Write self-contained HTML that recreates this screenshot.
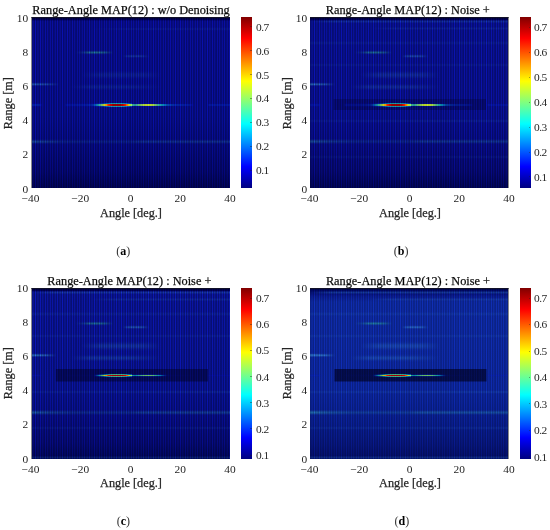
<!DOCTYPE html><html><head><meta charset="utf-8"><style>
*{margin:0;padding:0;box-sizing:border-box}
html,body{width:550px;height:530px;background:#fff;overflow:hidden}
body{position:relative;font-family:"Liberation Serif","Times New Roman",serif;color:#262626}
.t{position:absolute;white-space:nowrap;line-height:1;-webkit-text-stroke:0.25px #262626}
.title{font-size:12.3px;color:#000}
.tk{font-size:11.4px;-webkit-text-stroke:0}
.lab{font-size:12.25px}
.plot{position:absolute;overflow:hidden;background:#0000a0}
.ax{position:absolute;left:0;top:0;right:0;bottom:0;border-top:1px solid rgba(20,20,40,.85)}
.axl{border-left:1px solid #8c8c8c}
.axr{border-right:1px solid #8c8c8c}
.cb{position:absolute;background:linear-gradient(to top, #000080 0%, #0000ff 12.5%, #00ffff 37.5%, #ffff00 62.5%, #ff0000 87.5%, #800000 100%)}
.cap{position:absolute;font-family:"Liberation Serif","Times New Roman",serif;font-size:12px;color:#000;white-space:nowrap;line-height:1}
.cap b{font-weight:bold}
.cap i{font-style:normal;color:#333}
</style></head><body>
<div class="plot" style="left:31px;top:17px;width:199px;height:171px"><svg width="199" height="171" viewBox="0 0 199 171" style="position:absolute;left:0;top:0;display:block;filter:blur(0.7px)" shape-rendering="crispEdges"><defs><linearGradient id="bga" x1="0" y1="0" x2="0" y2="1"><stop offset="0.0000" stop-color="#000030"/><stop offset="0.0146" stop-color="#000070"/><stop offset="0.0234" stop-color="#0a10b2"/><stop offset="0.5848" stop-color="#0810ac"/><stop offset="0.7602" stop-color="#060c9c"/><stop offset="0.9064" stop-color="#040888"/><stop offset="1.0000" stop-color="#00046a"/></linearGradient><linearGradient id="fa0"><stop offset="0.031" stop-color="#30c0b0" stop-opacity="0.00"/><stop offset="0.719" stop-color="#30c0b0" stop-opacity="0.03"/><stop offset="0.969" stop-color="#30c0b0" stop-opacity="0.00"/></linearGradient><linearGradient id="fa1"><stop offset="0.031" stop-color="#30c0b0" stop-opacity="0.01"/><stop offset="0.219" stop-color="#30c0b0" stop-opacity="0.11"/><stop offset="0.344" stop-color="#30c0b0" stop-opacity="0.26"/><stop offset="0.531" stop-color="#30c0b0" stop-opacity="0.31"/><stop offset="0.719" stop-color="#30c0b0" stop-opacity="0.25"/><stop offset="0.969" stop-color="#30c0b0" stop-opacity="0.00"/></linearGradient><linearGradient id="fa2"><stop offset="0.031" stop-color="#30c0b0" stop-opacity="0.01"/><stop offset="0.219" stop-color="#30c0b0" stop-opacity="0.22"/><stop offset="0.344" stop-color="#30c0b0" stop-opacity="0.51"/><stop offset="0.469" stop-color="#30c0b0" stop-opacity="0.61"/><stop offset="0.531" stop-color="#30c0b0" stop-opacity="0.62"/><stop offset="0.719" stop-color="#30c0b0" stop-opacity="0.50"/><stop offset="0.969" stop-color="#30c0b0" stop-opacity="0.00"/></linearGradient><linearGradient id="fa3"><stop offset="0.031" stop-color="#30c0b0" stop-opacity="0.01"/><stop offset="0.219" stop-color="#30c0b0" stop-opacity="0.11"/><stop offset="0.344" stop-color="#30c0b0" stop-opacity="0.26"/><stop offset="0.531" stop-color="#30c0b0" stop-opacity="0.31"/><stop offset="0.719" stop-color="#30c0b0" stop-opacity="0.25"/><stop offset="0.969" stop-color="#30c0b0" stop-opacity="0.00"/></linearGradient><linearGradient id="fa4"><stop offset="0.031" stop-color="#30c0b0" stop-opacity="0.00"/><stop offset="0.719" stop-color="#30c0b0" stop-opacity="0.03"/><stop offset="0.969" stop-color="#30c0b0" stop-opacity="0.00"/></linearGradient><linearGradient id="fa5"><stop offset="0.006" stop-color="#2a80c8" stop-opacity="0.05"/><stop offset="0.340" stop-color="#2a80c8" stop-opacity="0.02"/><stop offset="0.994" stop-color="#2a80c8" stop-opacity="0.03"/></linearGradient><linearGradient id="fa6"><stop offset="0.006" stop-color="#2a80c8" stop-opacity="0.29"/><stop offset="0.130" stop-color="#2a80c8" stop-opacity="0.13"/><stop offset="0.179" stop-color="#2a80c8" stop-opacity="0.10"/><stop offset="0.512" stop-color="#2a80c8" stop-opacity="0.11"/><stop offset="0.574" stop-color="#2a80c8" stop-opacity="0.17"/><stop offset="0.994" stop-color="#2a80c8" stop-opacity="0.17"/></linearGradient><linearGradient id="fa7"><stop offset="0.006" stop-color="#2a80c8" stop-opacity="0.58"/><stop offset="0.093" stop-color="#2a80c8" stop-opacity="0.39"/><stop offset="0.154" stop-color="#2a80c8" stop-opacity="0.20"/><stop offset="0.500" stop-color="#2a80c8" stop-opacity="0.20"/><stop offset="0.562" stop-color="#2a80c8" stop-opacity="0.34"/><stop offset="0.994" stop-color="#2a80c8" stop-opacity="0.34"/></linearGradient><linearGradient id="fa8"><stop offset="0.006" stop-color="#2a80c8" stop-opacity="0.43"/><stop offset="0.105" stop-color="#2a80c8" stop-opacity="0.26"/><stop offset="0.154" stop-color="#2a80c8" stop-opacity="0.15"/><stop offset="0.500" stop-color="#2a80c8" stop-opacity="0.15"/><stop offset="0.562" stop-color="#2a80c8" stop-opacity="0.25"/><stop offset="0.994" stop-color="#2a80c8" stop-opacity="0.25"/></linearGradient><linearGradient id="fa9"><stop offset="0.006" stop-color="#2a80c8" stop-opacity="0.12"/><stop offset="0.204" stop-color="#2a80c8" stop-opacity="0.04"/><stop offset="0.537" stop-color="#2a80c8" stop-opacity="0.06"/><stop offset="0.994" stop-color="#2a80c8" stop-opacity="0.07"/></linearGradient><linearGradient id="fa10"><stop offset="0.042" stop-color="#2f78e0" stop-opacity="0.06"/><stop offset="0.958" stop-color="#2f78e0" stop-opacity="0.00"/></linearGradient><linearGradient id="fa11"><stop offset="0.042" stop-color="#2f78e0" stop-opacity="0.48"/><stop offset="0.542" stop-color="#2f78e0" stop-opacity="0.34"/><stop offset="0.958" stop-color="#2f78e0" stop-opacity="0.00"/></linearGradient><linearGradient id="fa12"><stop offset="0.042" stop-color="#2f78e0" stop-opacity="0.76"/><stop offset="0.458" stop-color="#2f78e0" stop-opacity="0.60"/><stop offset="0.542" stop-color="#2f78e0" stop-opacity="0.54"/><stop offset="0.958" stop-color="#2f78e0" stop-opacity="0.00"/></linearGradient><linearGradient id="fa13"><stop offset="0.042" stop-color="#2f78e0" stop-opacity="0.25"/><stop offset="0.542" stop-color="#2f78e0" stop-opacity="0.18"/><stop offset="0.958" stop-color="#2f78e0" stop-opacity="0.00"/></linearGradient><linearGradient id="fa14"><stop offset="0.009" stop-color="#2f78e0" stop-opacity="0.00"/><stop offset="0.991" stop-color="#2f78e0" stop-opacity="0.02"/></linearGradient><linearGradient id="fa15"><stop offset="0.009" stop-color="#2f78e0" stop-opacity="0.00"/><stop offset="0.272" stop-color="#2f78e0" stop-opacity="0.10"/><stop offset="0.991" stop-color="#2f78e0" stop-opacity="0.10"/></linearGradient><linearGradient id="fa16"><stop offset="0.009" stop-color="#2f78e0" stop-opacity="0.00"/><stop offset="0.272" stop-color="#2f78e0" stop-opacity="0.10"/><stop offset="0.991" stop-color="#2f78e0" stop-opacity="0.10"/></linearGradient><linearGradient id="fa17"><stop offset="0.009" stop-color="#2f78e0" stop-opacity="0.00"/><stop offset="0.991" stop-color="#2f78e0" stop-opacity="0.02"/></linearGradient><linearGradient id="fa18"><stop offset="0.042" stop-color="#2f78e0" stop-opacity="0.00"/><stop offset="0.458" stop-color="#2f78e0" stop-opacity="0.04"/><stop offset="0.958" stop-color="#2f78e0" stop-opacity="0.00"/></linearGradient><linearGradient id="fa19"><stop offset="0.042" stop-color="#2f78e0" stop-opacity="0.01"/><stop offset="0.208" stop-color="#2f78e0" stop-opacity="0.23"/><stop offset="0.292" stop-color="#2f78e0" stop-opacity="0.27"/><stop offset="0.625" stop-color="#2f78e0" stop-opacity="0.27"/><stop offset="0.875" stop-color="#2f78e0" stop-opacity="0.04"/><stop offset="0.958" stop-color="#2f78e0" stop-opacity="0.00"/></linearGradient><linearGradient id="fa20"><stop offset="0.042" stop-color="#2f78e0" stop-opacity="0.01"/><stop offset="0.208" stop-color="#2f78e0" stop-opacity="0.31"/><stop offset="0.292" stop-color="#2f78e0" stop-opacity="0.37"/><stop offset="0.625" stop-color="#2f78e0" stop-opacity="0.37"/><stop offset="0.792" stop-color="#2f78e0" stop-opacity="0.18"/><stop offset="0.875" stop-color="#2f78e0" stop-opacity="0.06"/><stop offset="0.958" stop-color="#2f78e0" stop-opacity="0.00"/></linearGradient><linearGradient id="fa21"><stop offset="0.042" stop-color="#2f78e0" stop-opacity="0.00"/><stop offset="0.292" stop-color="#2f78e0" stop-opacity="0.11"/><stop offset="0.708" stop-color="#2f78e0" stop-opacity="0.08"/><stop offset="0.958" stop-color="#2f78e0" stop-opacity="0.00"/></linearGradient><linearGradient id="fa22"><stop offset="0.015" stop-color="#2f78e0" stop-opacity="0.00"/><stop offset="0.985" stop-color="#2f78e0" stop-opacity="0.00"/></linearGradient><linearGradient id="fa23"><stop offset="0.015" stop-color="#2f78e0" stop-opacity="0.00"/><stop offset="0.439" stop-color="#2f78e0" stop-opacity="0.04"/><stop offset="0.924" stop-color="#2f78e0" stop-opacity="0.01"/><stop offset="0.985" stop-color="#2f78e0" stop-opacity="0.00"/></linearGradient><linearGradient id="fa24"><stop offset="0.015" stop-color="#2f78e0" stop-opacity="0.00"/><stop offset="0.318" stop-color="#2f78e0" stop-opacity="0.09"/><stop offset="0.803" stop-color="#2f78e0" stop-opacity="0.07"/><stop offset="0.985" stop-color="#2f78e0" stop-opacity="0.00"/></linearGradient><linearGradient id="fa25"><stop offset="0.015" stop-color="#2f78e0" stop-opacity="0.00"/><stop offset="0.288" stop-color="#2f78e0" stop-opacity="0.15"/><stop offset="0.773" stop-color="#2f78e0" stop-opacity="0.14"/><stop offset="0.985" stop-color="#2f78e0" stop-opacity="0.01"/></linearGradient><linearGradient id="fa26"><stop offset="0.015" stop-color="#2f78e0" stop-opacity="0.00"/><stop offset="0.258" stop-color="#2f78e0" stop-opacity="0.19"/><stop offset="0.773" stop-color="#2f78e0" stop-opacity="0.18"/><stop offset="0.985" stop-color="#2f78e0" stop-opacity="0.01"/></linearGradient><linearGradient id="fa27"><stop offset="0.015" stop-color="#2f78e0" stop-opacity="0.00"/><stop offset="0.258" stop-color="#2f78e0" stop-opacity="0.19"/><stop offset="0.773" stop-color="#2f78e0" stop-opacity="0.18"/><stop offset="0.985" stop-color="#2f78e0" stop-opacity="0.01"/></linearGradient><linearGradient id="fa28"><stop offset="0.015" stop-color="#2f78e0" stop-opacity="0.00"/><stop offset="0.288" stop-color="#2f78e0" stop-opacity="0.15"/><stop offset="0.773" stop-color="#2f78e0" stop-opacity="0.14"/><stop offset="0.985" stop-color="#2f78e0" stop-opacity="0.01"/></linearGradient><linearGradient id="fa29"><stop offset="0.015" stop-color="#2f78e0" stop-opacity="0.00"/><stop offset="0.318" stop-color="#2f78e0" stop-opacity="0.09"/><stop offset="0.803" stop-color="#2f78e0" stop-opacity="0.07"/><stop offset="0.985" stop-color="#2f78e0" stop-opacity="0.00"/></linearGradient><linearGradient id="fa30"><stop offset="0.015" stop-color="#2f78e0" stop-opacity="0.00"/><stop offset="0.439" stop-color="#2f78e0" stop-opacity="0.04"/><stop offset="0.924" stop-color="#2f78e0" stop-opacity="0.01"/><stop offset="0.985" stop-color="#2f78e0" stop-opacity="0.00"/></linearGradient><linearGradient id="fa31"><stop offset="0.015" stop-color="#2f78e0" stop-opacity="0.00"/><stop offset="0.985" stop-color="#2f78e0" stop-opacity="0.00"/></linearGradient><linearGradient id="fa32"><stop offset="0.014" stop-color="#2f78e0" stop-opacity="0.00"/><stop offset="0.986" stop-color="#2f78e0" stop-opacity="0.00"/></linearGradient><linearGradient id="fa33"><stop offset="0.014" stop-color="#2f78e0" stop-opacity="0.00"/><stop offset="0.365" stop-color="#2f78e0" stop-opacity="0.05"/><stop offset="0.878" stop-color="#2f78e0" stop-opacity="0.02"/><stop offset="0.986" stop-color="#2f78e0" stop-opacity="0.00"/></linearGradient><linearGradient id="fa34"><stop offset="0.014" stop-color="#2f78e0" stop-opacity="0.00"/><stop offset="0.257" stop-color="#2f78e0" stop-opacity="0.12"/><stop offset="0.716" stop-color="#2f78e0" stop-opacity="0.10"/><stop offset="0.986" stop-color="#2f78e0" stop-opacity="0.00"/></linearGradient><linearGradient id="fa35"><stop offset="0.014" stop-color="#2f78e0" stop-opacity="0.01"/><stop offset="0.230" stop-color="#2f78e0" stop-opacity="0.19"/><stop offset="0.689" stop-color="#2f78e0" stop-opacity="0.18"/><stop offset="0.986" stop-color="#2f78e0" stop-opacity="0.01"/></linearGradient><linearGradient id="fa36"><stop offset="0.014" stop-color="#2f78e0" stop-opacity="0.01"/><stop offset="0.230" stop-color="#2f78e0" stop-opacity="0.19"/><stop offset="0.689" stop-color="#2f78e0" stop-opacity="0.18"/><stop offset="0.986" stop-color="#2f78e0" stop-opacity="0.01"/></linearGradient><linearGradient id="fa37"><stop offset="0.014" stop-color="#2f78e0" stop-opacity="0.00"/><stop offset="0.257" stop-color="#2f78e0" stop-opacity="0.12"/><stop offset="0.716" stop-color="#2f78e0" stop-opacity="0.10"/><stop offset="0.986" stop-color="#2f78e0" stop-opacity="0.00"/></linearGradient><linearGradient id="fa38"><stop offset="0.014" stop-color="#2f78e0" stop-opacity="0.00"/><stop offset="0.365" stop-color="#2f78e0" stop-opacity="0.05"/><stop offset="0.878" stop-color="#2f78e0" stop-opacity="0.02"/><stop offset="0.986" stop-color="#2f78e0" stop-opacity="0.00"/></linearGradient><linearGradient id="fa39"><stop offset="0.014" stop-color="#2f78e0" stop-opacity="0.00"/><stop offset="0.986" stop-color="#2f78e0" stop-opacity="0.00"/></linearGradient><linearGradient id="fa40"><stop offset="0.012" stop-color="#0000fa" stop-opacity="0.10"/><stop offset="0.085" stop-color="#0000fa" stop-opacity="0.10"/><stop offset="0.110" stop-color="#0000d0" stop-opacity="0.03"/><stop offset="0.134" stop-color="#0000bd" stop-opacity="0.00"/><stop offset="0.329" stop-color="#0000c1" stop-opacity="0.01"/><stop offset="0.354" stop-color="#0000eb" stop-opacity="0.08"/><stop offset="0.573" stop-color="#0000f7" stop-opacity="0.09"/><stop offset="0.598" stop-color="#0000fc" stop-opacity="0.10"/><stop offset="0.622" stop-color="#0010ff" stop-opacity="0.13"/><stop offset="0.720" stop-color="#008dff" stop-opacity="0.34"/><stop offset="0.768" stop-color="#00f2ff" stop-opacity="0.50"/><stop offset="0.793" stop-color="#13ffec" stop-opacity="0.56"/><stop offset="0.817" stop-color="#28ffd7" stop-opacity="0.59"/><stop offset="0.890" stop-color="#28ffd7" stop-opacity="0.59"/><stop offset="0.915" stop-color="#13ffec" stop-opacity="0.56"/><stop offset="0.939" stop-color="#00f3ff" stop-opacity="0.51"/><stop offset="0.963" stop-color="#00b9ff" stop-opacity="0.41"/><stop offset="0.988" stop-color="#0095ff" stop-opacity="0.35"/></linearGradient><linearGradient id="fa41"><stop offset="0.012" stop-color="#005bff" stop-opacity="0.26"/><stop offset="0.085" stop-color="#005bff" stop-opacity="0.26"/><stop offset="0.110" stop-color="#0000ee" stop-opacity="0.08"/><stop offset="0.134" stop-color="#0000bd" stop-opacity="0.00"/><stop offset="0.305" stop-color="#0000bd" stop-opacity="0.00"/><stop offset="0.329" stop-color="#0000c7" stop-opacity="0.02"/><stop offset="0.354" stop-color="#0034ff" stop-opacity="0.19"/><stop offset="0.549" stop-color="#0049ff" stop-opacity="0.23"/><stop offset="0.598" stop-color="#005fff" stop-opacity="0.26"/><stop offset="0.622" stop-color="#008fff" stop-opacity="0.34"/><stop offset="0.646" stop-color="#00ddff" stop-opacity="0.47"/><stop offset="0.671" stop-color="#30ffcf" stop-opacity="0.60"/><stop offset="0.720" stop-color="#d1ff2e" stop-opacity="0.87"/><stop offset="0.744" stop-color="#ffb400"/><stop offset="0.768" stop-color="#ff2900"/><stop offset="0.793" stop-color="#d70000"/><stop offset="0.817" stop-color="#a20000"/><stop offset="0.890" stop-color="#a20000"/><stop offset="0.915" stop-color="#d60000"/><stop offset="0.939" stop-color="#ff2800"/><stop offset="0.963" stop-color="#ffbb00"/><stop offset="0.988" stop-color="#e6ff19" stop-opacity="0.90"/></linearGradient><linearGradient id="fa42"><stop offset="0.012" stop-color="#005bff" stop-opacity="0.26"/><stop offset="0.085" stop-color="#005bff" stop-opacity="0.26"/><stop offset="0.110" stop-color="#0000ee" stop-opacity="0.08"/><stop offset="0.134" stop-color="#0000bd" stop-opacity="0.00"/><stop offset="0.305" stop-color="#0000bd" stop-opacity="0.00"/><stop offset="0.329" stop-color="#0000c7" stop-opacity="0.02"/><stop offset="0.354" stop-color="#0034ff" stop-opacity="0.19"/><stop offset="0.549" stop-color="#0049ff" stop-opacity="0.23"/><stop offset="0.598" stop-color="#005fff" stop-opacity="0.26"/><stop offset="0.622" stop-color="#008fff" stop-opacity="0.34"/><stop offset="0.646" stop-color="#00ddff" stop-opacity="0.47"/><stop offset="0.671" stop-color="#30ffcf" stop-opacity="0.60"/><stop offset="0.720" stop-color="#d1ff2e" stop-opacity="0.87"/><stop offset="0.744" stop-color="#ffb400"/><stop offset="0.768" stop-color="#ff2900"/><stop offset="0.793" stop-color="#d70000"/><stop offset="0.817" stop-color="#a20000"/><stop offset="0.890" stop-color="#a20000"/><stop offset="0.915" stop-color="#d60000"/><stop offset="0.939" stop-color="#ff2800"/><stop offset="0.963" stop-color="#ffbb00"/><stop offset="0.988" stop-color="#e6ff19" stop-opacity="0.90"/></linearGradient><linearGradient id="fa43"><stop offset="0.012" stop-color="#0000fa" stop-opacity="0.10"/><stop offset="0.085" stop-color="#0000fa" stop-opacity="0.10"/><stop offset="0.110" stop-color="#0000d0" stop-opacity="0.03"/><stop offset="0.134" stop-color="#0000bd" stop-opacity="0.00"/><stop offset="0.329" stop-color="#0000c1" stop-opacity="0.01"/><stop offset="0.354" stop-color="#0000eb" stop-opacity="0.08"/><stop offset="0.573" stop-color="#0000f7" stop-opacity="0.09"/><stop offset="0.598" stop-color="#0000fc" stop-opacity="0.10"/><stop offset="0.622" stop-color="#0010ff" stop-opacity="0.13"/><stop offset="0.720" stop-color="#008dff" stop-opacity="0.34"/><stop offset="0.768" stop-color="#00f2ff" stop-opacity="0.50"/><stop offset="0.793" stop-color="#13ffec" stop-opacity="0.56"/><stop offset="0.817" stop-color="#28ffd7" stop-opacity="0.59"/><stop offset="0.890" stop-color="#28ffd7" stop-opacity="0.59"/><stop offset="0.915" stop-color="#13ffec" stop-opacity="0.56"/><stop offset="0.939" stop-color="#00f3ff" stop-opacity="0.51"/><stop offset="0.963" stop-color="#00b9ff" stop-opacity="0.41"/><stop offset="0.988" stop-color="#0095ff" stop-opacity="0.35"/></linearGradient><linearGradient id="fa44"><stop offset="0.012" stop-color="#000bff" stop-opacity="0.13"/><stop offset="0.037" stop-color="#0000fd" stop-opacity="0.10"/><stop offset="0.183" stop-color="#0014ff" stop-opacity="0.14"/><stop offset="0.256" stop-color="#000aff" stop-opacity="0.12"/><stop offset="0.329" stop-color="#0000f2" stop-opacity="0.09"/><stop offset="0.451" stop-color="#0000d8" stop-opacity="0.05"/><stop offset="0.622" stop-color="#0000cd" stop-opacity="0.03"/><stop offset="0.671" stop-color="#0000bd" stop-opacity="0.00"/><stop offset="0.768" stop-color="#0000bd" stop-opacity="0.00"/><stop offset="0.793" stop-color="#0000d2" stop-opacity="0.03"/><stop offset="0.988" stop-color="#0000d2" stop-opacity="0.03"/></linearGradient><linearGradient id="fa45"><stop offset="0.012" stop-color="#a5ff5a" stop-opacity="0.80"/><stop offset="0.037" stop-color="#52ffad" stop-opacity="0.66"/><stop offset="0.061" stop-color="#3bffc4" stop-opacity="0.62"/><stop offset="0.085" stop-color="#76ff89" stop-opacity="0.72"/><stop offset="0.110" stop-color="#a1ff5e" stop-opacity="0.79"/><stop offset="0.159" stop-color="#dcff23" stop-opacity="0.89"/><stop offset="0.207" stop-color="#dcff23" stop-opacity="0.89"/><stop offset="0.232" stop-color="#cfff30" stop-opacity="0.86"/><stop offset="0.329" stop-color="#0dfff2" stop-opacity="0.55"/><stop offset="0.354" stop-color="#00ddff" stop-opacity="0.47"/><stop offset="0.378" stop-color="#00aeff" stop-opacity="0.39"/><stop offset="0.451" stop-color="#006bff" stop-opacity="0.28"/><stop offset="0.598" stop-color="#0046ff" stop-opacity="0.22"/><stop offset="0.622" stop-color="#0024ff" stop-opacity="0.17"/><stop offset="0.646" stop-color="#0000d1" stop-opacity="0.03"/><stop offset="0.671" stop-color="#0000bd" stop-opacity="0.00"/><stop offset="0.768" stop-color="#0000bd" stop-opacity="0.00"/><stop offset="0.793" stop-color="#0043ff" stop-opacity="0.22"/><stop offset="0.988" stop-color="#0043ff" stop-opacity="0.22"/></linearGradient><linearGradient id="fa46"><stop offset="0.012" stop-color="#a5ff5a" stop-opacity="0.80"/><stop offset="0.037" stop-color="#52ffad" stop-opacity="0.66"/><stop offset="0.061" stop-color="#3bffc4" stop-opacity="0.62"/><stop offset="0.085" stop-color="#76ff89" stop-opacity="0.72"/><stop offset="0.110" stop-color="#a1ff5e" stop-opacity="0.79"/><stop offset="0.159" stop-color="#dcff23" stop-opacity="0.89"/><stop offset="0.207" stop-color="#dcff23" stop-opacity="0.89"/><stop offset="0.232" stop-color="#cfff30" stop-opacity="0.86"/><stop offset="0.329" stop-color="#0dfff2" stop-opacity="0.55"/><stop offset="0.354" stop-color="#00ddff" stop-opacity="0.47"/><stop offset="0.378" stop-color="#00aeff" stop-opacity="0.39"/><stop offset="0.451" stop-color="#006bff" stop-opacity="0.28"/><stop offset="0.598" stop-color="#0046ff" stop-opacity="0.22"/><stop offset="0.622" stop-color="#0024ff" stop-opacity="0.17"/><stop offset="0.646" stop-color="#0000d1" stop-opacity="0.03"/><stop offset="0.671" stop-color="#0000bd" stop-opacity="0.00"/><stop offset="0.768" stop-color="#0000bd" stop-opacity="0.00"/><stop offset="0.793" stop-color="#0043ff" stop-opacity="0.22"/><stop offset="0.988" stop-color="#0043ff" stop-opacity="0.22"/></linearGradient><linearGradient id="fa47"><stop offset="0.012" stop-color="#000bff" stop-opacity="0.13"/><stop offset="0.037" stop-color="#0000fd" stop-opacity="0.10"/><stop offset="0.183" stop-color="#0014ff" stop-opacity="0.14"/><stop offset="0.256" stop-color="#000aff" stop-opacity="0.12"/><stop offset="0.329" stop-color="#0000f2" stop-opacity="0.09"/><stop offset="0.451" stop-color="#0000d8" stop-opacity="0.05"/><stop offset="0.622" stop-color="#0000cd" stop-opacity="0.03"/><stop offset="0.671" stop-color="#0000bd" stop-opacity="0.00"/><stop offset="0.768" stop-color="#0000bd" stop-opacity="0.00"/><stop offset="0.793" stop-color="#0000d2" stop-opacity="0.03"/><stop offset="0.988" stop-color="#0000d2" stop-opacity="0.03"/></linearGradient><pattern id="sta" x="0" y="0" width="2.4568" height="171" patternUnits="userSpaceOnUse"><rect x="0" y="0" width="1.351" height="171" fill="#000" opacity="0.3"/></pattern></defs><rect x="0" y="0" width="199" height="171" fill="url(#bga)"/><rect x="44.22" y="33" width="39.31" height="1" fill="url(#fa0)"/><rect x="44.22" y="34" width="39.31" height="1" fill="url(#fa1)"/><rect x="44.22" y="35" width="39.31" height="1" fill="url(#fa2)"/><rect x="44.22" y="36" width="39.31" height="1" fill="url(#fa3)"/><rect x="44.22" y="37" width="39.31" height="1" fill="url(#fa4)"/><rect x="0.00" y="122" width="199.00" height="1" fill="url(#fa5)"/><rect x="0.00" y="123" width="199.00" height="1" fill="url(#fa6)"/><rect x="0.00" y="124" width="199.00" height="1" fill="url(#fa7)"/><rect x="0.00" y="125" width="199.00" height="1" fill="url(#fa8)"/><rect x="0.00" y="126" width="199.00" height="1" fill="url(#fa9)"/><rect x="0.00" y="65" width="29.48" height="1" fill="url(#fa10)"/><rect x="0.00" y="66" width="29.48" height="1" fill="url(#fa11)"/><rect x="0.00" y="67" width="29.48" height="1" fill="url(#fa12)"/><rect x="0.00" y="68" width="29.48" height="1" fill="url(#fa13)"/><rect x="58.96" y="10" width="140.04" height="1" fill="url(#fa14)"/><rect x="58.96" y="11" width="140.04" height="1" fill="url(#fa15)"/><rect x="58.96" y="12" width="140.04" height="1" fill="url(#fa16)"/><rect x="58.96" y="13" width="140.04" height="1" fill="url(#fa17)"/><rect x="90.90" y="37" width="29.48" height="1" fill="url(#fa18)"/><rect x="90.90" y="38" width="29.48" height="1" fill="url(#fa19)"/><rect x="90.90" y="39" width="29.48" height="1" fill="url(#fa20)"/><rect x="90.90" y="40" width="29.48" height="1" fill="url(#fa21)"/><rect x="49.14" y="53" width="81.07" height="1" fill="url(#fa22)"/><rect x="49.14" y="54" width="81.07" height="1" fill="url(#fa23)"/><rect x="49.14" y="55" width="81.07" height="1" fill="url(#fa24)"/><rect x="49.14" y="56" width="81.07" height="1" fill="url(#fa25)"/><rect x="49.14" y="57" width="81.07" height="1" fill="url(#fa26)"/><rect x="49.14" y="58" width="81.07" height="1" fill="url(#fa27)"/><rect x="49.14" y="59" width="81.07" height="1" fill="url(#fa28)"/><rect x="49.14" y="60" width="81.07" height="1" fill="url(#fa29)"/><rect x="49.14" y="61" width="81.07" height="1" fill="url(#fa30)"/><rect x="49.14" y="62" width="81.07" height="1" fill="url(#fa31)"/><rect x="39.31" y="66" width="90.90" height="1" fill="url(#fa32)"/><rect x="39.31" y="67" width="90.90" height="1" fill="url(#fa33)"/><rect x="39.31" y="68" width="90.90" height="1" fill="url(#fa34)"/><rect x="39.31" y="69" width="90.90" height="1" fill="url(#fa35)"/><rect x="39.31" y="70" width="90.90" height="1" fill="url(#fa36)"/><rect x="39.31" y="71" width="90.90" height="1" fill="url(#fa37)"/><rect x="39.31" y="72" width="90.90" height="1" fill="url(#fa38)"/><rect x="39.31" y="73" width="90.90" height="1" fill="url(#fa39)"/><rect x="0" y="0" width="199" height="171" fill="url(#sta)" shape-rendering="auto"/><rect x="0.00" y="86" width="100.73" height="1" fill="url(#fa40)"/><rect x="0.00" y="87" width="100.73" height="1" fill="url(#fa41)"/><rect x="0.00" y="88" width="100.73" height="1" fill="url(#fa42)"/><rect x="0.00" y="89" width="100.73" height="1" fill="url(#fa43)"/><rect x="98.27" y="86" width="100.73" height="1" fill="url(#fa44)"/><rect x="98.27" y="87" width="100.73" height="1" fill="url(#fa45)"/><rect x="98.27" y="88" width="100.73" height="1" fill="url(#fa46)"/><rect x="98.27" y="89" width="100.73" height="1" fill="url(#fa47)"/><rect x="0" y="0" width="199" height="171" fill="url(#sta)" opacity="0.35" shape-rendering="auto"/></svg><div class="ax axl"></div></div>
<div class="cb" style="left:241px;top:17px;width:11px;height:171px"></div>
<div class="t title" style="left:-68.94999999999999px;width:400px;text-align:center;top:3.8px">Range-Angle MAP(12) : w/o Denoising</div>
<div class="t tk" style="right:521.9px;top:12.60px">10</div>
<div class="t tk" style="right:521.9px;top:46.80px">8</div>
<div class="t tk" style="right:521.9px;top:81.00px">6</div>
<div class="t tk" style="right:521.9px;top:115.20px">4</div>
<div class="t tk" style="right:521.9px;top:149.40px">2</div>
<div class="t tk" style="right:521.9px;top:183.60px">0</div>
<div class="t tk" style="left:-19.50px;width:100px;text-align:center;top:193.30px">−40</div>
<div class="t tk" style="left:30.25px;width:100px;text-align:center;top:193.30px">−20</div>
<div class="t tk" style="left:80.50px;width:100px;text-align:center;top:193.30px">0</div>
<div class="t tk" style="left:130.25px;width:100px;text-align:center;top:193.30px">20</div>
<div class="t tk" style="left:180.00px;width:100px;text-align:center;top:193.30px">40</div>
<div class="t tk" style="left:255.9px;top:21.80px;letter-spacing:-0.45px">0.7</div>
<div style="position:absolute;left:250.4px;top:26.40px;width:1.6px;height:1px;background:rgba(30,30,30,.4)"></div>
<div class="t tk" style="left:255.9px;top:45.65px;letter-spacing:-0.45px">0.6</div>
<div style="position:absolute;left:250.4px;top:50.25px;width:1.6px;height:1px;background:rgba(30,30,30,.4)"></div>
<div class="t tk" style="left:255.9px;top:69.50px;letter-spacing:-0.45px">0.5</div>
<div style="position:absolute;left:250.4px;top:74.10px;width:1.6px;height:1px;background:rgba(30,30,30,.4)"></div>
<div class="t tk" style="left:255.9px;top:93.35px;letter-spacing:-0.45px">0.4</div>
<div style="position:absolute;left:250.4px;top:97.95px;width:1.6px;height:1px;background:rgba(30,30,30,.4)"></div>
<div class="t tk" style="left:255.9px;top:117.20px;letter-spacing:-0.45px">0.3</div>
<div style="position:absolute;left:250.4px;top:121.80px;width:1.6px;height:1px;background:rgba(30,30,30,.4)"></div>
<div class="t tk" style="left:255.9px;top:141.05px;letter-spacing:-0.45px">0.2</div>
<div style="position:absolute;left:250.4px;top:145.65px;width:1.6px;height:1px;background:rgba(30,30,30,.4)"></div>
<div class="t tk" style="left:255.9px;top:164.90px;letter-spacing:-0.45px">0.1</div>
<div style="position:absolute;left:250.4px;top:169.50px;width:1.6px;height:1px;background:rgba(30,30,30,.4)"></div>
<div class="t lab" style="left:31px;width:200px;text-align:center;top:206.80px">Angle [deg.]</div>
<div class="t lab" style="left:-92px;width:200px;text-align:center;top:97.00px;transform:rotate(-90deg)">Range [m]</div>
<div class="cap" style="left:93.2px;width:60px;text-align:center;top:245px"><i>(</i><b>a</b><i>)</i></div>
<div class="plot" style="left:310px;top:17px;width:199px;height:171px"><svg width="199" height="171" viewBox="0 0 199 171" style="position:absolute;left:0;top:0;display:block;filter:blur(0.7px)" shape-rendering="crispEdges"><defs><linearGradient id="bgb" x1="0" y1="0" x2="0" y2="1"><stop offset="0.0000" stop-color="#000030"/><stop offset="0.0146" stop-color="#000070"/><stop offset="0.0234" stop-color="#0a14b4"/><stop offset="0.5848" stop-color="#0a12b0"/><stop offset="0.7602" stop-color="#080ea0"/><stop offset="0.9064" stop-color="#060a8c"/><stop offset="1.0000" stop-color="#00066e"/></linearGradient><linearGradient id="fb0"><stop offset="0.031" stop-color="#30c0b0" stop-opacity="0.00"/><stop offset="0.719" stop-color="#30c0b0" stop-opacity="0.03"/><stop offset="0.969" stop-color="#30c0b0" stop-opacity="0.00"/></linearGradient><linearGradient id="fb1"><stop offset="0.031" stop-color="#30c0b0" stop-opacity="0.01"/><stop offset="0.219" stop-color="#30c0b0" stop-opacity="0.10"/><stop offset="0.344" stop-color="#30c0b0" stop-opacity="0.24"/><stop offset="0.531" stop-color="#30c0b0" stop-opacity="0.29"/><stop offset="0.719" stop-color="#30c0b0" stop-opacity="0.23"/><stop offset="0.969" stop-color="#30c0b0" stop-opacity="0.00"/></linearGradient><linearGradient id="fb2"><stop offset="0.031" stop-color="#30c0b0" stop-opacity="0.01"/><stop offset="0.219" stop-color="#30c0b0" stop-opacity="0.21"/><stop offset="0.344" stop-color="#30c0b0" stop-opacity="0.47"/><stop offset="0.469" stop-color="#30c0b0" stop-opacity="0.56"/><stop offset="0.594" stop-color="#30c0b0" stop-opacity="0.54"/><stop offset="0.719" stop-color="#30c0b0" stop-opacity="0.46"/><stop offset="0.969" stop-color="#30c0b0" stop-opacity="0.00"/></linearGradient><linearGradient id="fb3"><stop offset="0.031" stop-color="#30c0b0" stop-opacity="0.01"/><stop offset="0.219" stop-color="#30c0b0" stop-opacity="0.10"/><stop offset="0.344" stop-color="#30c0b0" stop-opacity="0.24"/><stop offset="0.531" stop-color="#30c0b0" stop-opacity="0.29"/><stop offset="0.719" stop-color="#30c0b0" stop-opacity="0.23"/><stop offset="0.969" stop-color="#30c0b0" stop-opacity="0.00"/></linearGradient><linearGradient id="fb4"><stop offset="0.031" stop-color="#30c0b0" stop-opacity="0.00"/><stop offset="0.719" stop-color="#30c0b0" stop-opacity="0.03"/><stop offset="0.969" stop-color="#30c0b0" stop-opacity="0.00"/></linearGradient><linearGradient id="fb5"><stop offset="0.042" stop-color="#2f78e0" stop-opacity="0.00"/><stop offset="0.292" stop-color="#2f78e0" stop-opacity="0.06"/><stop offset="0.708" stop-color="#2f78e0" stop-opacity="0.05"/><stop offset="0.958" stop-color="#2f78e0" stop-opacity="0.00"/></linearGradient><linearGradient id="fb6"><stop offset="0.042" stop-color="#2f78e0" stop-opacity="0.01"/><stop offset="0.208" stop-color="#2f78e0" stop-opacity="0.34"/><stop offset="0.292" stop-color="#2f78e0" stop-opacity="0.41"/><stop offset="0.625" stop-color="#2f78e0" stop-opacity="0.41"/><stop offset="0.792" stop-color="#2f78e0" stop-opacity="0.19"/><stop offset="0.875" stop-color="#2f78e0" stop-opacity="0.07"/><stop offset="0.958" stop-color="#2f78e0" stop-opacity="0.00"/></linearGradient><linearGradient id="fb7"><stop offset="0.042" stop-color="#2f78e0" stop-opacity="0.01"/><stop offset="0.208" stop-color="#2f78e0" stop-opacity="0.47"/><stop offset="0.292" stop-color="#2f78e0" stop-opacity="0.56"/><stop offset="0.625" stop-color="#2f78e0" stop-opacity="0.56"/><stop offset="0.708" stop-color="#2f78e0" stop-opacity="0.43"/><stop offset="0.875" stop-color="#2f78e0" stop-opacity="0.09"/><stop offset="0.958" stop-color="#2f78e0" stop-opacity="0.00"/></linearGradient><linearGradient id="fb8"><stop offset="0.042" stop-color="#2f78e0" stop-opacity="0.00"/><stop offset="0.208" stop-color="#2f78e0" stop-opacity="0.13"/><stop offset="0.542" stop-color="#2f78e0" stop-opacity="0.16"/><stop offset="0.708" stop-color="#2f78e0" stop-opacity="0.12"/><stop offset="0.958" stop-color="#2f78e0" stop-opacity="0.00"/></linearGradient><linearGradient id="fb9"><stop offset="0.006" stop-color="#2a88c8" stop-opacity="0.11"/><stop offset="0.278" stop-color="#2a88c8" stop-opacity="0.04"/><stop offset="0.994" stop-color="#2a88c8" stop-opacity="0.07"/></linearGradient><linearGradient id="fb10"><stop offset="0.006" stop-color="#2a88c8" stop-opacity="0.39"/><stop offset="0.117" stop-color="#2a88c8" stop-opacity="0.22"/><stop offset="0.228" stop-color="#2a88c8" stop-opacity="0.15"/><stop offset="0.512" stop-color="#2a88c8" stop-opacity="0.16"/><stop offset="0.562" stop-color="#2a88c8" stop-opacity="0.23"/><stop offset="0.994" stop-color="#2a88c8" stop-opacity="0.23"/></linearGradient><linearGradient id="fb11"><stop offset="0.006" stop-color="#2a88c8" stop-opacity="0.58"/><stop offset="0.093" stop-color="#2a88c8" stop-opacity="0.38"/><stop offset="0.216" stop-color="#2a88c8" stop-opacity="0.22"/><stop offset="0.500" stop-color="#2a88c8" stop-opacity="0.22"/><stop offset="0.562" stop-color="#2a88c8" stop-opacity="0.35"/><stop offset="0.994" stop-color="#2a88c8" stop-opacity="0.35"/></linearGradient><linearGradient id="fb12"><stop offset="0.006" stop-color="#2a88c8" stop-opacity="0.39"/><stop offset="0.117" stop-color="#2a88c8" stop-opacity="0.22"/><stop offset="0.228" stop-color="#2a88c8" stop-opacity="0.15"/><stop offset="0.512" stop-color="#2a88c8" stop-opacity="0.16"/><stop offset="0.562" stop-color="#2a88c8" stop-opacity="0.23"/><stop offset="0.994" stop-color="#2a88c8" stop-opacity="0.23"/></linearGradient><linearGradient id="fb13"><stop offset="0.006" stop-color="#2a88c8" stop-opacity="0.11"/><stop offset="0.278" stop-color="#2a88c8" stop-opacity="0.04"/><stop offset="0.994" stop-color="#2a88c8" stop-opacity="0.07"/></linearGradient><linearGradient id="fb14"><stop offset="0.045" stop-color="#2f78e0" stop-opacity="0.08"/><stop offset="0.955" stop-color="#2f78e0" stop-opacity="0.00"/></linearGradient><linearGradient id="fb15"><stop offset="0.045" stop-color="#2f78e0" stop-opacity="0.59"/><stop offset="0.500" stop-color="#2f78e0" stop-opacity="0.44"/><stop offset="0.591" stop-color="#2f78e0" stop-opacity="0.38"/><stop offset="0.864" stop-color="#2f78e0" stop-opacity="0.07"/><stop offset="0.955" stop-color="#2f78e0" stop-opacity="0.00"/></linearGradient><linearGradient id="fb16"><stop offset="0.045" stop-color="#2f78e0" stop-opacity="0.95"/><stop offset="0.500" stop-color="#2f78e0" stop-opacity="0.71"/><stop offset="0.591" stop-color="#2f78e0" stop-opacity="0.61"/><stop offset="0.864" stop-color="#2f78e0" stop-opacity="0.11"/><stop offset="0.955" stop-color="#2f78e0" stop-opacity="0.00"/></linearGradient><linearGradient id="fb17"><stop offset="0.045" stop-color="#2f78e0" stop-opacity="0.32"/><stop offset="0.591" stop-color="#2f78e0" stop-opacity="0.21"/><stop offset="0.955" stop-color="#2f78e0" stop-opacity="0.00"/></linearGradient><linearGradient id="fb18"><stop offset="0.009" stop-color="#2f78e0" stop-opacity="0.00"/><stop offset="0.184" stop-color="#2f78e0" stop-opacity="0.08"/><stop offset="0.991" stop-color="#2f78e0" stop-opacity="0.08"/></linearGradient><linearGradient id="fb19"><stop offset="0.009" stop-color="#2f78e0" stop-opacity="0.00"/><stop offset="0.167" stop-color="#2f78e0" stop-opacity="0.18"/><stop offset="0.991" stop-color="#2f78e0" stop-opacity="0.18"/></linearGradient><linearGradient id="fb20"><stop offset="0.009" stop-color="#2f78e0" stop-opacity="0.00"/><stop offset="0.184" stop-color="#2f78e0" stop-opacity="0.08"/><stop offset="0.991" stop-color="#2f78e0" stop-opacity="0.08"/></linearGradient><linearGradient id="fb21"><stop offset="0.006" stop-color="#2f78e0" stop-opacity="0.01"/><stop offset="0.117" stop-color="#2f78e0" stop-opacity="0.14"/><stop offset="0.994" stop-color="#2f78e0" stop-opacity="0.14"/></linearGradient><linearGradient id="fb22"><stop offset="0.006" stop-color="#2f78e0" stop-opacity="0.02"/><stop offset="0.105" stop-color="#2f78e0" stop-opacity="0.30"/><stop offset="0.994" stop-color="#2f78e0" stop-opacity="0.30"/></linearGradient><linearGradient id="fb23"><stop offset="0.006" stop-color="#2f78e0" stop-opacity="0.01"/><stop offset="0.117" stop-color="#2f78e0" stop-opacity="0.14"/><stop offset="0.994" stop-color="#2f78e0" stop-opacity="0.14"/></linearGradient><linearGradient id="fb24"><stop offset="0.015" stop-color="#2f78e0" stop-opacity="0.00"/><stop offset="0.833" stop-color="#2f78e0" stop-opacity="0.02"/><stop offset="0.985" stop-color="#2f78e0" stop-opacity="0.00"/></linearGradient><linearGradient id="fb25"><stop offset="0.015" stop-color="#2f78e0" stop-opacity="0.00"/><stop offset="0.348" stop-color="#2f78e0" stop-opacity="0.06"/><stop offset="0.833" stop-color="#2f78e0" stop-opacity="0.04"/><stop offset="0.985" stop-color="#2f78e0" stop-opacity="0.00"/></linearGradient><linearGradient id="fb26"><stop offset="0.015" stop-color="#2f78e0" stop-opacity="0.00"/><stop offset="0.288" stop-color="#2f78e0" stop-opacity="0.14"/><stop offset="0.773" stop-color="#2f78e0" stop-opacity="0.13"/><stop offset="0.985" stop-color="#2f78e0" stop-opacity="0.01"/></linearGradient><linearGradient id="fb27"><stop offset="0.015" stop-color="#2f78e0" stop-opacity="0.00"/><stop offset="0.258" stop-color="#2f78e0" stop-opacity="0.23"/><stop offset="0.773" stop-color="#2f78e0" stop-opacity="0.21"/><stop offset="0.985" stop-color="#2f78e0" stop-opacity="0.01"/></linearGradient><linearGradient id="fb28"><stop offset="0.015" stop-color="#2f78e0" stop-opacity="0.01"/><stop offset="0.258" stop-color="#2f78e0" stop-opacity="0.29"/><stop offset="0.742" stop-color="#2f78e0" stop-opacity="0.29"/><stop offset="0.985" stop-color="#2f78e0" stop-opacity="0.01"/></linearGradient><linearGradient id="fb29"><stop offset="0.015" stop-color="#2f78e0" stop-opacity="0.01"/><stop offset="0.258" stop-color="#2f78e0" stop-opacity="0.29"/><stop offset="0.742" stop-color="#2f78e0" stop-opacity="0.29"/><stop offset="0.985" stop-color="#2f78e0" stop-opacity="0.01"/></linearGradient><linearGradient id="fb30"><stop offset="0.015" stop-color="#2f78e0" stop-opacity="0.00"/><stop offset="0.258" stop-color="#2f78e0" stop-opacity="0.23"/><stop offset="0.773" stop-color="#2f78e0" stop-opacity="0.21"/><stop offset="0.985" stop-color="#2f78e0" stop-opacity="0.01"/></linearGradient><linearGradient id="fb31"><stop offset="0.015" stop-color="#2f78e0" stop-opacity="0.00"/><stop offset="0.288" stop-color="#2f78e0" stop-opacity="0.14"/><stop offset="0.773" stop-color="#2f78e0" stop-opacity="0.13"/><stop offset="0.985" stop-color="#2f78e0" stop-opacity="0.01"/></linearGradient><linearGradient id="fb32"><stop offset="0.015" stop-color="#2f78e0" stop-opacity="0.00"/><stop offset="0.348" stop-color="#2f78e0" stop-opacity="0.06"/><stop offset="0.833" stop-color="#2f78e0" stop-opacity="0.04"/><stop offset="0.985" stop-color="#2f78e0" stop-opacity="0.00"/></linearGradient><linearGradient id="fb33"><stop offset="0.015" stop-color="#2f78e0" stop-opacity="0.00"/><stop offset="0.833" stop-color="#2f78e0" stop-opacity="0.02"/><stop offset="0.985" stop-color="#2f78e0" stop-opacity="0.00"/></linearGradient><linearGradient id="fb34"><stop offset="0.014" stop-color="#2f78e0" stop-opacity="0.00"/><stop offset="0.986" stop-color="#2f78e0" stop-opacity="0.00"/></linearGradient><linearGradient id="fb35"><stop offset="0.014" stop-color="#2f78e0" stop-opacity="0.00"/><stop offset="0.284" stop-color="#2f78e0" stop-opacity="0.07"/><stop offset="0.770" stop-color="#2f78e0" stop-opacity="0.05"/><stop offset="0.986" stop-color="#2f78e0" stop-opacity="0.00"/></linearGradient><linearGradient id="fb36"><stop offset="0.014" stop-color="#2f78e0" stop-opacity="0.00"/><stop offset="0.230" stop-color="#2f78e0" stop-opacity="0.18"/><stop offset="0.689" stop-color="#2f78e0" stop-opacity="0.17"/><stop offset="0.986" stop-color="#2f78e0" stop-opacity="0.01"/></linearGradient><linearGradient id="fb37"><stop offset="0.014" stop-color="#2f78e0" stop-opacity="0.01"/><stop offset="0.230" stop-color="#2f78e0" stop-opacity="0.28"/><stop offset="0.689" stop-color="#2f78e0" stop-opacity="0.27"/><stop offset="0.986" stop-color="#2f78e0" stop-opacity="0.01"/></linearGradient><linearGradient id="fb38"><stop offset="0.014" stop-color="#2f78e0" stop-opacity="0.01"/><stop offset="0.230" stop-color="#2f78e0" stop-opacity="0.28"/><stop offset="0.689" stop-color="#2f78e0" stop-opacity="0.27"/><stop offset="0.986" stop-color="#2f78e0" stop-opacity="0.01"/></linearGradient><linearGradient id="fb39"><stop offset="0.014" stop-color="#2f78e0" stop-opacity="0.00"/><stop offset="0.230" stop-color="#2f78e0" stop-opacity="0.18"/><stop offset="0.689" stop-color="#2f78e0" stop-opacity="0.17"/><stop offset="0.986" stop-color="#2f78e0" stop-opacity="0.01"/></linearGradient><linearGradient id="fb40"><stop offset="0.014" stop-color="#2f78e0" stop-opacity="0.00"/><stop offset="0.284" stop-color="#2f78e0" stop-opacity="0.07"/><stop offset="0.770" stop-color="#2f78e0" stop-opacity="0.05"/><stop offset="0.986" stop-color="#2f78e0" stop-opacity="0.00"/></linearGradient><linearGradient id="fb41"><stop offset="0.014" stop-color="#2f78e0" stop-opacity="0.00"/><stop offset="0.986" stop-color="#2f78e0" stop-opacity="0.00"/></linearGradient><linearGradient id="fb42"><stop offset="0.006" stop-color="#2f78e0" stop-opacity="0.04"/><stop offset="0.994" stop-color="#2f78e0" stop-opacity="0.04"/></linearGradient><linearGradient id="fb43"><stop offset="0.006" stop-color="#2f78e0" stop-opacity="0.11"/><stop offset="0.994" stop-color="#2f78e0" stop-opacity="0.11"/></linearGradient><linearGradient id="fb44"><stop offset="0.006" stop-color="#2f78e0" stop-opacity="0.11"/><stop offset="0.994" stop-color="#2f78e0" stop-opacity="0.11"/></linearGradient><linearGradient id="fb45"><stop offset="0.006" stop-color="#2f78e0" stop-opacity="0.04"/><stop offset="0.994" stop-color="#2f78e0" stop-opacity="0.04"/></linearGradient><linearGradient id="fb46"><stop offset="0.006" stop-color="#2f78e0" stop-opacity="0.02"/><stop offset="0.994" stop-color="#2f78e0" stop-opacity="0.02"/></linearGradient><linearGradient id="fb47"><stop offset="0.006" stop-color="#2f78e0" stop-opacity="0.10"/><stop offset="0.994" stop-color="#2f78e0" stop-opacity="0.10"/></linearGradient><linearGradient id="fb48"><stop offset="0.006" stop-color="#2f78e0" stop-opacity="0.10"/><stop offset="0.994" stop-color="#2f78e0" stop-opacity="0.10"/></linearGradient><linearGradient id="fb49"><stop offset="0.006" stop-color="#2f78e0" stop-opacity="0.02"/><stop offset="0.994" stop-color="#2f78e0" stop-opacity="0.02"/></linearGradient><linearGradient id="fb50"><stop offset="0.006" stop-color="#2f78e0" stop-opacity="0.02"/><stop offset="0.994" stop-color="#2f78e0" stop-opacity="0.03"/></linearGradient><linearGradient id="fb51"><stop offset="0.006" stop-color="#2f78e0" stop-opacity="0.10"/><stop offset="0.994" stop-color="#2f78e0" stop-opacity="0.15"/></linearGradient><linearGradient id="fb52"><stop offset="0.006" stop-color="#2f78e0" stop-opacity="0.10"/><stop offset="0.994" stop-color="#2f78e0" stop-opacity="0.15"/></linearGradient><linearGradient id="fb53"><stop offset="0.006" stop-color="#2f78e0" stop-opacity="0.02"/><stop offset="0.994" stop-color="#2f78e0" stop-opacity="0.03"/></linearGradient><linearGradient id="fb54"><stop offset="0.006" stop-color="#2f78e0" stop-opacity="0.02"/><stop offset="0.994" stop-color="#2f78e0" stop-opacity="0.02"/></linearGradient><linearGradient id="fb55"><stop offset="0.006" stop-color="#2f78e0" stop-opacity="0.08"/><stop offset="0.994" stop-color="#2f78e0" stop-opacity="0.10"/></linearGradient><linearGradient id="fb56"><stop offset="0.006" stop-color="#2f78e0" stop-opacity="0.08"/><stop offset="0.994" stop-color="#2f78e0" stop-opacity="0.10"/></linearGradient><linearGradient id="fb57"><stop offset="0.006" stop-color="#2f78e0" stop-opacity="0.02"/><stop offset="0.994" stop-color="#2f78e0" stop-opacity="0.02"/></linearGradient><linearGradient id="fb58"><stop offset="0.012" stop-color="#0000eb" stop-opacity="0.08"/><stop offset="0.085" stop-color="#0000eb" stop-opacity="0.08"/><stop offset="0.110" stop-color="#0000cb" stop-opacity="0.02"/><stop offset="0.134" stop-color="#0000bd" stop-opacity="0.00"/><stop offset="0.329" stop-color="#0000c0" stop-opacity="0.01"/><stop offset="0.354" stop-color="#0000e6" stop-opacity="0.07"/><stop offset="0.573" stop-color="#0000f1" stop-opacity="0.09"/><stop offset="0.598" stop-color="#0000f6" stop-opacity="0.09"/><stop offset="0.622" stop-color="#000fff" stop-opacity="0.13"/><stop offset="0.720" stop-color="#008dff" stop-opacity="0.34"/><stop offset="0.768" stop-color="#00f2ff" stop-opacity="0.50"/><stop offset="0.793" stop-color="#13ffec" stop-opacity="0.56"/><stop offset="0.817" stop-color="#28ffd7" stop-opacity="0.59"/><stop offset="0.890" stop-color="#28ffd7" stop-opacity="0.59"/><stop offset="0.915" stop-color="#13ffec" stop-opacity="0.56"/><stop offset="0.939" stop-color="#00f3ff" stop-opacity="0.51"/><stop offset="0.963" stop-color="#00b9ff" stop-opacity="0.41"/><stop offset="0.988" stop-color="#0095ff" stop-opacity="0.35"/></linearGradient><linearGradient id="fb59"><stop offset="0.012" stop-color="#0034ff" stop-opacity="0.19"/><stop offset="0.085" stop-color="#0034ff" stop-opacity="0.19"/><stop offset="0.110" stop-color="#0000e2" stop-opacity="0.06"/><stop offset="0.134" stop-color="#0000bd" stop-opacity="0.00"/><stop offset="0.305" stop-color="#0000bd" stop-opacity="0.00"/><stop offset="0.329" stop-color="#0000c6" stop-opacity="0.01"/><stop offset="0.354" stop-color="#0028ff" stop-opacity="0.17"/><stop offset="0.549" stop-color="#003bff" stop-opacity="0.20"/><stop offset="0.598" stop-color="#0050ff" stop-opacity="0.24"/><stop offset="0.622" stop-color="#008dff" stop-opacity="0.34"/><stop offset="0.646" stop-color="#00ddff" stop-opacity="0.47"/><stop offset="0.671" stop-color="#30ffcf" stop-opacity="0.60"/><stop offset="0.720" stop-color="#d1ff2e" stop-opacity="0.87"/><stop offset="0.744" stop-color="#ffb400"/><stop offset="0.768" stop-color="#ff2900"/><stop offset="0.793" stop-color="#d70000"/><stop offset="0.817" stop-color="#a20000"/><stop offset="0.890" stop-color="#a20000"/><stop offset="0.915" stop-color="#d60000"/><stop offset="0.939" stop-color="#ff2800"/><stop offset="0.963" stop-color="#ffbb00"/><stop offset="0.988" stop-color="#e6ff19" stop-opacity="0.90"/></linearGradient><linearGradient id="fb60"><stop offset="0.012" stop-color="#0034ff" stop-opacity="0.19"/><stop offset="0.085" stop-color="#0034ff" stop-opacity="0.19"/><stop offset="0.110" stop-color="#0000e2" stop-opacity="0.06"/><stop offset="0.134" stop-color="#0000bd" stop-opacity="0.00"/><stop offset="0.305" stop-color="#0000bd" stop-opacity="0.00"/><stop offset="0.329" stop-color="#0000c6" stop-opacity="0.01"/><stop offset="0.354" stop-color="#0028ff" stop-opacity="0.17"/><stop offset="0.549" stop-color="#003bff" stop-opacity="0.20"/><stop offset="0.598" stop-color="#0050ff" stop-opacity="0.24"/><stop offset="0.622" stop-color="#008dff" stop-opacity="0.34"/><stop offset="0.646" stop-color="#00ddff" stop-opacity="0.47"/><stop offset="0.671" stop-color="#30ffcf" stop-opacity="0.60"/><stop offset="0.720" stop-color="#d1ff2e" stop-opacity="0.87"/><stop offset="0.744" stop-color="#ffb400"/><stop offset="0.768" stop-color="#ff2900"/><stop offset="0.793" stop-color="#d70000"/><stop offset="0.817" stop-color="#a20000"/><stop offset="0.890" stop-color="#a20000"/><stop offset="0.915" stop-color="#d60000"/><stop offset="0.939" stop-color="#ff2800"/><stop offset="0.963" stop-color="#ffbb00"/><stop offset="0.988" stop-color="#e6ff19" stop-opacity="0.90"/></linearGradient><linearGradient id="fb61"><stop offset="0.012" stop-color="#0000eb" stop-opacity="0.08"/><stop offset="0.085" stop-color="#0000eb" stop-opacity="0.08"/><stop offset="0.110" stop-color="#0000cb" stop-opacity="0.02"/><stop offset="0.134" stop-color="#0000bd" stop-opacity="0.00"/><stop offset="0.329" stop-color="#0000c0" stop-opacity="0.01"/><stop offset="0.354" stop-color="#0000e6" stop-opacity="0.07"/><stop offset="0.573" stop-color="#0000f1" stop-opacity="0.09"/><stop offset="0.598" stop-color="#0000f6" stop-opacity="0.09"/><stop offset="0.622" stop-color="#000fff" stop-opacity="0.13"/><stop offset="0.720" stop-color="#008dff" stop-opacity="0.34"/><stop offset="0.768" stop-color="#00f2ff" stop-opacity="0.50"/><stop offset="0.793" stop-color="#13ffec" stop-opacity="0.56"/><stop offset="0.817" stop-color="#28ffd7" stop-opacity="0.59"/><stop offset="0.890" stop-color="#28ffd7" stop-opacity="0.59"/><stop offset="0.915" stop-color="#13ffec" stop-opacity="0.56"/><stop offset="0.939" stop-color="#00f3ff" stop-opacity="0.51"/><stop offset="0.963" stop-color="#00b9ff" stop-opacity="0.41"/><stop offset="0.988" stop-color="#0095ff" stop-opacity="0.35"/></linearGradient><linearGradient id="fb62"><stop offset="0.012" stop-color="#000bff" stop-opacity="0.13"/><stop offset="0.037" stop-color="#0000fd" stop-opacity="0.10"/><stop offset="0.183" stop-color="#0014ff" stop-opacity="0.14"/><stop offset="0.256" stop-color="#000aff" stop-opacity="0.12"/><stop offset="0.329" stop-color="#0000f1" stop-opacity="0.09"/><stop offset="0.402" stop-color="#0000db" stop-opacity="0.05"/><stop offset="0.622" stop-color="#0000cb" stop-opacity="0.02"/><stop offset="0.671" stop-color="#0000bd" stop-opacity="0.00"/><stop offset="0.768" stop-color="#0000bd" stop-opacity="0.00"/><stop offset="0.793" stop-color="#0000cf" stop-opacity="0.03"/><stop offset="0.988" stop-color="#0000cf" stop-opacity="0.03"/></linearGradient><linearGradient id="fb63"><stop offset="0.012" stop-color="#a5ff5a" stop-opacity="0.80"/><stop offset="0.037" stop-color="#52ffad" stop-opacity="0.66"/><stop offset="0.061" stop-color="#3bffc4" stop-opacity="0.62"/><stop offset="0.085" stop-color="#76ff89" stop-opacity="0.72"/><stop offset="0.110" stop-color="#a1ff5e" stop-opacity="0.79"/><stop offset="0.159" stop-color="#dcff23" stop-opacity="0.89"/><stop offset="0.207" stop-color="#dcff23" stop-opacity="0.89"/><stop offset="0.232" stop-color="#cfff30" stop-opacity="0.86"/><stop offset="0.329" stop-color="#08fff7" stop-opacity="0.54"/><stop offset="0.378" stop-color="#0099ff" stop-opacity="0.36"/><stop offset="0.427" stop-color="#006cff" stop-opacity="0.28"/><stop offset="0.451" stop-color="#005aff" stop-opacity="0.25"/><stop offset="0.598" stop-color="#0039ff" stop-opacity="0.20"/><stop offset="0.622" stop-color="#001aff" stop-opacity="0.15"/><stop offset="0.646" stop-color="#0000cf" stop-opacity="0.03"/><stop offset="0.671" stop-color="#0000bd" stop-opacity="0.00"/><stop offset="0.768" stop-color="#0000bd" stop-opacity="0.00"/><stop offset="0.793" stop-color="#0030ff" stop-opacity="0.19"/><stop offset="0.988" stop-color="#0030ff" stop-opacity="0.19"/></linearGradient><linearGradient id="fb64"><stop offset="0.012" stop-color="#a5ff5a" stop-opacity="0.80"/><stop offset="0.037" stop-color="#52ffad" stop-opacity="0.66"/><stop offset="0.061" stop-color="#3bffc4" stop-opacity="0.62"/><stop offset="0.085" stop-color="#76ff89" stop-opacity="0.72"/><stop offset="0.110" stop-color="#a1ff5e" stop-opacity="0.79"/><stop offset="0.159" stop-color="#dcff23" stop-opacity="0.89"/><stop offset="0.207" stop-color="#dcff23" stop-opacity="0.89"/><stop offset="0.232" stop-color="#cfff30" stop-opacity="0.86"/><stop offset="0.329" stop-color="#08fff7" stop-opacity="0.54"/><stop offset="0.378" stop-color="#0099ff" stop-opacity="0.36"/><stop offset="0.427" stop-color="#006cff" stop-opacity="0.28"/><stop offset="0.451" stop-color="#005aff" stop-opacity="0.25"/><stop offset="0.598" stop-color="#0039ff" stop-opacity="0.20"/><stop offset="0.622" stop-color="#001aff" stop-opacity="0.15"/><stop offset="0.646" stop-color="#0000cf" stop-opacity="0.03"/><stop offset="0.671" stop-color="#0000bd" stop-opacity="0.00"/><stop offset="0.768" stop-color="#0000bd" stop-opacity="0.00"/><stop offset="0.793" stop-color="#0030ff" stop-opacity="0.19"/><stop offset="0.988" stop-color="#0030ff" stop-opacity="0.19"/></linearGradient><linearGradient id="fb65"><stop offset="0.012" stop-color="#000bff" stop-opacity="0.13"/><stop offset="0.037" stop-color="#0000fd" stop-opacity="0.10"/><stop offset="0.183" stop-color="#0014ff" stop-opacity="0.14"/><stop offset="0.256" stop-color="#000aff" stop-opacity="0.12"/><stop offset="0.329" stop-color="#0000f1" stop-opacity="0.09"/><stop offset="0.402" stop-color="#0000db" stop-opacity="0.05"/><stop offset="0.622" stop-color="#0000cb" stop-opacity="0.02"/><stop offset="0.671" stop-color="#0000bd" stop-opacity="0.00"/><stop offset="0.768" stop-color="#0000bd" stop-opacity="0.00"/><stop offset="0.793" stop-color="#0000cf" stop-opacity="0.03"/><stop offset="0.988" stop-color="#0000cf" stop-opacity="0.03"/></linearGradient><pattern id="stb" x="0" y="0" width="2.4568" height="171" patternUnits="userSpaceOnUse"><rect x="0" y="0" width="1.351" height="171" fill="#000" opacity="0.3"/></pattern></defs><rect x="0" y="0" width="199" height="171" fill="url(#bgb)"/><rect x="44.22" y="33" width="39.31" height="1" fill="url(#fb0)"/><rect x="44.22" y="34" width="39.31" height="1" fill="url(#fb1)"/><rect x="44.22" y="35" width="39.31" height="1" fill="url(#fb2)"/><rect x="44.22" y="36" width="39.31" height="1" fill="url(#fb3)"/><rect x="44.22" y="37" width="39.31" height="1" fill="url(#fb4)"/><rect x="90.90" y="37" width="29.48" height="1" fill="url(#fb5)"/><rect x="90.90" y="38" width="29.48" height="1" fill="url(#fb6)"/><rect x="90.90" y="39" width="29.48" height="1" fill="url(#fb7)"/><rect x="90.90" y="40" width="29.48" height="1" fill="url(#fb8)"/><rect x="0.00" y="122" width="199.00" height="1" fill="url(#fb9)"/><rect x="0.00" y="123" width="199.00" height="1" fill="url(#fb10)"/><rect x="0.00" y="124" width="199.00" height="1" fill="url(#fb11)"/><rect x="0.00" y="125" width="199.00" height="1" fill="url(#fb12)"/><rect x="0.00" y="126" width="199.00" height="1" fill="url(#fb13)"/><rect x="0.00" y="65" width="27.02" height="1" fill="url(#fb14)"/><rect x="0.00" y="66" width="27.02" height="1" fill="url(#fb15)"/><rect x="0.00" y="67" width="27.02" height="1" fill="url(#fb16)"/><rect x="0.00" y="68" width="27.02" height="1" fill="url(#fb17)"/><rect x="58.96" y="10" width="140.04" height="1" fill="url(#fb18)"/><rect x="58.96" y="11" width="140.04" height="1" fill="url(#fb19)"/><rect x="58.96" y="12" width="140.04" height="1" fill="url(#fb20)"/><rect x="0.00" y="3" width="199.00" height="1" fill="url(#fb21)"/><rect x="0.00" y="4" width="199.00" height="1" fill="url(#fb22)"/><rect x="0.00" y="5" width="199.00" height="1" fill="url(#fb23)"/><rect x="49.14" y="53" width="81.07" height="1" fill="url(#fb24)"/><rect x="49.14" y="54" width="81.07" height="1" fill="url(#fb25)"/><rect x="49.14" y="55" width="81.07" height="1" fill="url(#fb26)"/><rect x="49.14" y="56" width="81.07" height="1" fill="url(#fb27)"/><rect x="49.14" y="57" width="81.07" height="1" fill="url(#fb28)"/><rect x="49.14" y="58" width="81.07" height="1" fill="url(#fb29)"/><rect x="49.14" y="59" width="81.07" height="1" fill="url(#fb30)"/><rect x="49.14" y="60" width="81.07" height="1" fill="url(#fb31)"/><rect x="49.14" y="61" width="81.07" height="1" fill="url(#fb32)"/><rect x="49.14" y="62" width="81.07" height="1" fill="url(#fb33)"/><rect x="39.31" y="66" width="90.90" height="1" fill="url(#fb34)"/><rect x="39.31" y="67" width="90.90" height="1" fill="url(#fb35)"/><rect x="39.31" y="68" width="90.90" height="1" fill="url(#fb36)"/><rect x="39.31" y="69" width="90.90" height="1" fill="url(#fb37)"/><rect x="39.31" y="70" width="90.90" height="1" fill="url(#fb38)"/><rect x="39.31" y="71" width="90.90" height="1" fill="url(#fb39)"/><rect x="39.31" y="72" width="90.90" height="1" fill="url(#fb40)"/><rect x="39.31" y="73" width="90.90" height="1" fill="url(#fb41)"/><rect x="0.00" y="24" width="199.00" height="1" fill="url(#fb42)"/><rect x="0.00" y="25" width="199.00" height="1" fill="url(#fb43)"/><rect x="0.00" y="26" width="199.00" height="1" fill="url(#fb44)"/><rect x="0.00" y="27" width="199.00" height="1" fill="url(#fb45)"/><rect x="0.00" y="46" width="199.00" height="1" fill="url(#fb46)"/><rect x="0.00" y="47" width="199.00" height="1" fill="url(#fb47)"/><rect x="0.00" y="48" width="199.00" height="1" fill="url(#fb48)"/><rect x="0.00" y="49" width="199.00" height="1" fill="url(#fb49)"/><rect x="0.00" y="102" width="199.00" height="1" fill="url(#fb50)"/><rect x="0.00" y="103" width="199.00" height="1" fill="url(#fb51)"/><rect x="0.00" y="104" width="199.00" height="1" fill="url(#fb52)"/><rect x="0.00" y="105" width="199.00" height="1" fill="url(#fb53)"/><rect x="0.00" y="138" width="199.00" height="1" fill="url(#fb54)"/><rect x="0.00" y="139" width="199.00" height="1" fill="url(#fb55)"/><rect x="0.00" y="140" width="199.00" height="1" fill="url(#fb56)"/><rect x="0.00" y="141" width="199.00" height="1" fill="url(#fb57)"/><rect x="23.6" y="82" width="152.40" height="11.00" fill="#000030" opacity="0.28" shape-rendering="auto"/><rect x="0" y="0" width="199" height="171" fill="url(#stb)" shape-rendering="auto"/><rect x="0.00" y="86" width="100.73" height="1" fill="url(#fb58)"/><rect x="0.00" y="87" width="100.73" height="1" fill="url(#fb59)"/><rect x="0.00" y="88" width="100.73" height="1" fill="url(#fb60)"/><rect x="0.00" y="89" width="100.73" height="1" fill="url(#fb61)"/><rect x="98.27" y="86" width="100.73" height="1" fill="url(#fb62)"/><rect x="98.27" y="87" width="100.73" height="1" fill="url(#fb63)"/><rect x="98.27" y="88" width="100.73" height="1" fill="url(#fb64)"/><rect x="98.27" y="89" width="100.73" height="1" fill="url(#fb65)"/><rect x="0" y="0" width="199" height="171" fill="url(#stb)" opacity="0.35" shape-rendering="auto"/></svg><div class="ax axr"></div></div>
<div class="cb" style="left:519.5px;top:17px;width:11px;height:171px"></div>
<div class="t title" style="left:207.75px;width:400px;text-align:center;top:3.8px">Range-Angle MAP(12) : Noise +</div>
<div class="t tk" style="right:242.89999999999998px;top:12.60px">10</div>
<div class="t tk" style="right:242.89999999999998px;top:46.80px">8</div>
<div class="t tk" style="right:242.89999999999998px;top:81.00px">6</div>
<div class="t tk" style="right:242.89999999999998px;top:115.20px">4</div>
<div class="t tk" style="right:242.89999999999998px;top:149.40px">2</div>
<div class="t tk" style="right:242.89999999999998px;top:183.60px">0</div>
<div class="t tk" style="left:259.50px;width:100px;text-align:center;top:193.30px">−40</div>
<div class="t tk" style="left:309.25px;width:100px;text-align:center;top:193.30px">−20</div>
<div class="t tk" style="left:359.50px;width:100px;text-align:center;top:193.30px">0</div>
<div class="t tk" style="left:409.25px;width:100px;text-align:center;top:193.30px">20</div>
<div class="t tk" style="left:459.00px;width:100px;text-align:center;top:193.30px">40</div>
<div class="t tk" style="left:533.9px;top:22.00px;letter-spacing:-0.45px">0.7</div>
<div style="position:absolute;left:528.9px;top:26.60px;width:1.6px;height:1px;background:rgba(30,30,30,.4)"></div>
<div class="t tk" style="left:533.9px;top:46.98px;letter-spacing:-0.45px">0.6</div>
<div style="position:absolute;left:528.9px;top:51.58px;width:1.6px;height:1px;background:rgba(30,30,30,.4)"></div>
<div class="t tk" style="left:533.9px;top:71.96px;letter-spacing:-0.45px">0.5</div>
<div style="position:absolute;left:528.9px;top:76.56px;width:1.6px;height:1px;background:rgba(30,30,30,.4)"></div>
<div class="t tk" style="left:533.9px;top:96.94px;letter-spacing:-0.45px">0.4</div>
<div style="position:absolute;left:528.9px;top:101.54px;width:1.6px;height:1px;background:rgba(30,30,30,.4)"></div>
<div class="t tk" style="left:533.9px;top:121.92px;letter-spacing:-0.45px">0.3</div>
<div style="position:absolute;left:528.9px;top:126.52px;width:1.6px;height:1px;background:rgba(30,30,30,.4)"></div>
<div class="t tk" style="left:533.9px;top:146.90px;letter-spacing:-0.45px">0.2</div>
<div style="position:absolute;left:528.9px;top:151.50px;width:1.6px;height:1px;background:rgba(30,30,30,.4)"></div>
<div class="t tk" style="left:533.9px;top:171.88px;letter-spacing:-0.45px">0.1</div>
<div style="position:absolute;left:528.9px;top:176.48px;width:1.6px;height:1px;background:rgba(30,30,30,.4)"></div>
<div class="t lab" style="left:310px;width:200px;text-align:center;top:206.80px">Angle [deg.]</div>
<div class="t lab" style="left:187px;width:200px;text-align:center;top:97.00px;transform:rotate(-90deg)">Range [m]</div>
<div class="cap" style="left:371.1px;width:60px;text-align:center;top:245px"><i>(</i><b>b</b><i>)</i></div>
<div class="plot" style="left:31px;top:288px;width:199px;height:171px"><svg width="199" height="171" viewBox="0 0 199 171" style="position:absolute;left:0;top:0;display:block;filter:blur(0.7px)" shape-rendering="crispEdges"><defs><linearGradient id="bgc" x1="0" y1="0" x2="0" y2="1"><stop offset="0.0000" stop-color="#000030"/><stop offset="0.0146" stop-color="#000070"/><stop offset="0.0234" stop-color="#0c18b8"/><stop offset="0.5848" stop-color="#0a16b2"/><stop offset="0.7602" stop-color="#0810a2"/><stop offset="0.9064" stop-color="#060c8e"/><stop offset="1.0000" stop-color="#000870"/></linearGradient><linearGradient id="fc0"><stop offset="0.031" stop-color="#30c0b0" stop-opacity="0.00"/><stop offset="0.719" stop-color="#30c0b0" stop-opacity="0.03"/><stop offset="0.969" stop-color="#30c0b0" stop-opacity="0.00"/></linearGradient><linearGradient id="fc1"><stop offset="0.031" stop-color="#30c0b0" stop-opacity="0.01"/><stop offset="0.219" stop-color="#30c0b0" stop-opacity="0.10"/><stop offset="0.344" stop-color="#30c0b0" stop-opacity="0.24"/><stop offset="0.531" stop-color="#30c0b0" stop-opacity="0.29"/><stop offset="0.719" stop-color="#30c0b0" stop-opacity="0.23"/><stop offset="0.969" stop-color="#30c0b0" stop-opacity="0.00"/></linearGradient><linearGradient id="fc2"><stop offset="0.031" stop-color="#30c0b0" stop-opacity="0.01"/><stop offset="0.219" stop-color="#30c0b0" stop-opacity="0.21"/><stop offset="0.344" stop-color="#30c0b0" stop-opacity="0.47"/><stop offset="0.469" stop-color="#30c0b0" stop-opacity="0.56"/><stop offset="0.594" stop-color="#30c0b0" stop-opacity="0.54"/><stop offset="0.719" stop-color="#30c0b0" stop-opacity="0.46"/><stop offset="0.969" stop-color="#30c0b0" stop-opacity="0.00"/></linearGradient><linearGradient id="fc3"><stop offset="0.031" stop-color="#30c0b0" stop-opacity="0.01"/><stop offset="0.219" stop-color="#30c0b0" stop-opacity="0.10"/><stop offset="0.344" stop-color="#30c0b0" stop-opacity="0.24"/><stop offset="0.531" stop-color="#30c0b0" stop-opacity="0.29"/><stop offset="0.719" stop-color="#30c0b0" stop-opacity="0.23"/><stop offset="0.969" stop-color="#30c0b0" stop-opacity="0.00"/></linearGradient><linearGradient id="fc4"><stop offset="0.031" stop-color="#30c0b0" stop-opacity="0.00"/><stop offset="0.719" stop-color="#30c0b0" stop-opacity="0.03"/><stop offset="0.969" stop-color="#30c0b0" stop-opacity="0.00"/></linearGradient><linearGradient id="fc5"><stop offset="0.042" stop-color="#2f78e0" stop-opacity="0.00"/><stop offset="0.292" stop-color="#2f78e0" stop-opacity="0.08"/><stop offset="0.708" stop-color="#2f78e0" stop-opacity="0.06"/><stop offset="0.958" stop-color="#2f78e0" stop-opacity="0.00"/></linearGradient><linearGradient id="fc6"><stop offset="0.042" stop-color="#2f78e0" stop-opacity="0.01"/><stop offset="0.208" stop-color="#2f78e0" stop-opacity="0.41"/><stop offset="0.292" stop-color="#2f78e0" stop-opacity="0.49"/><stop offset="0.625" stop-color="#2f78e0" stop-opacity="0.49"/><stop offset="0.708" stop-color="#2f78e0" stop-opacity="0.38"/><stop offset="0.875" stop-color="#2f78e0" stop-opacity="0.08"/><stop offset="0.958" stop-color="#2f78e0" stop-opacity="0.00"/></linearGradient><linearGradient id="fc7"><stop offset="0.042" stop-color="#2f78e0" stop-opacity="0.01"/><stop offset="0.208" stop-color="#2f78e0" stop-opacity="0.56"/><stop offset="0.292" stop-color="#2f78e0" stop-opacity="0.67"/><stop offset="0.625" stop-color="#2f78e0" stop-opacity="0.67"/><stop offset="0.708" stop-color="#2f78e0" stop-opacity="0.52"/><stop offset="0.875" stop-color="#2f78e0" stop-opacity="0.11"/><stop offset="0.958" stop-color="#2f78e0" stop-opacity="0.00"/></linearGradient><linearGradient id="fc8"><stop offset="0.042" stop-color="#2f78e0" stop-opacity="0.00"/><stop offset="0.208" stop-color="#2f78e0" stop-opacity="0.16"/><stop offset="0.375" stop-color="#2f78e0" stop-opacity="0.19"/><stop offset="0.625" stop-color="#2f78e0" stop-opacity="0.19"/><stop offset="0.958" stop-color="#2f78e0" stop-opacity="0.00"/></linearGradient><linearGradient id="fc9"><stop offset="0.006" stop-color="#2a88c8" stop-opacity="0.13"/><stop offset="0.253" stop-color="#2a88c8" stop-opacity="0.05"/><stop offset="0.537" stop-color="#2a88c8" stop-opacity="0.07"/><stop offset="0.994" stop-color="#2a88c8" stop-opacity="0.08"/></linearGradient><linearGradient id="fc10"><stop offset="0.006" stop-color="#2a88c8" stop-opacity="0.46"/><stop offset="0.105" stop-color="#2a88c8" stop-opacity="0.28"/><stop offset="0.216" stop-color="#2a88c8" stop-opacity="0.17"/><stop offset="0.512" stop-color="#2a88c8" stop-opacity="0.19"/><stop offset="0.562" stop-color="#2a88c8" stop-opacity="0.28"/><stop offset="0.994" stop-color="#2a88c8" stop-opacity="0.28"/></linearGradient><linearGradient id="fc11"><stop offset="0.006" stop-color="#2a88c8" stop-opacity="0.70"/><stop offset="0.093" stop-color="#2a88c8" stop-opacity="0.45"/><stop offset="0.204" stop-color="#2a88c8" stop-opacity="0.26"/><stop offset="0.500" stop-color="#2a88c8" stop-opacity="0.26"/><stop offset="0.549" stop-color="#2a88c8" stop-opacity="0.41"/><stop offset="0.994" stop-color="#2a88c8" stop-opacity="0.42"/></linearGradient><linearGradient id="fc12"><stop offset="0.006" stop-color="#2a88c8" stop-opacity="0.46"/><stop offset="0.105" stop-color="#2a88c8" stop-opacity="0.28"/><stop offset="0.216" stop-color="#2a88c8" stop-opacity="0.17"/><stop offset="0.512" stop-color="#2a88c8" stop-opacity="0.19"/><stop offset="0.562" stop-color="#2a88c8" stop-opacity="0.28"/><stop offset="0.994" stop-color="#2a88c8" stop-opacity="0.28"/></linearGradient><linearGradient id="fc13"><stop offset="0.006" stop-color="#2a88c8" stop-opacity="0.13"/><stop offset="0.253" stop-color="#2a88c8" stop-opacity="0.05"/><stop offset="0.537" stop-color="#2a88c8" stop-opacity="0.07"/><stop offset="0.994" stop-color="#2a88c8" stop-opacity="0.08"/></linearGradient><linearGradient id="fc14"><stop offset="0.045" stop-color="#2f78e0" stop-opacity="0.09"/><stop offset="0.773" stop-color="#2f78e0" stop-opacity="0.03"/><stop offset="0.955" stop-color="#2f78e0" stop-opacity="0.00"/></linearGradient><linearGradient id="fc15"><stop offset="0.045" stop-color="#2f78e0" stop-opacity="0.71"/><stop offset="0.500" stop-color="#2f78e0" stop-opacity="0.53"/><stop offset="0.591" stop-color="#2f78e0" stop-opacity="0.46"/><stop offset="0.864" stop-color="#2f78e0" stop-opacity="0.08"/><stop offset="0.955" stop-color="#2f78e0" stop-opacity="0.00"/></linearGradient><linearGradient id="fc16"><stop offset="0.045" stop-color="#2f78e0"/><stop offset="0.227" stop-color="#2f78e0"/><stop offset="0.500" stop-color="#2f78e0" stop-opacity="0.85"/><stop offset="0.591" stop-color="#2f78e0" stop-opacity="0.74"/><stop offset="0.864" stop-color="#2f78e0" stop-opacity="0.14"/><stop offset="0.955" stop-color="#2f78e0" stop-opacity="0.00"/></linearGradient><linearGradient id="fc17"><stop offset="0.045" stop-color="#2f78e0" stop-opacity="0.38"/><stop offset="0.591" stop-color="#2f78e0" stop-opacity="0.25"/><stop offset="0.955" stop-color="#2f78e0" stop-opacity="0.00"/></linearGradient><linearGradient id="fc18"><stop offset="0.009" stop-color="#2f78e0" stop-opacity="0.00"/><stop offset="0.184" stop-color="#2f78e0" stop-opacity="0.10"/><stop offset="0.991" stop-color="#2f78e0" stop-opacity="0.10"/></linearGradient><linearGradient id="fc19"><stop offset="0.009" stop-color="#2f78e0" stop-opacity="0.00"/><stop offset="0.149" stop-color="#2f78e0" stop-opacity="0.21"/><stop offset="0.991" stop-color="#2f78e0" stop-opacity="0.22"/></linearGradient><linearGradient id="fc20"><stop offset="0.009" stop-color="#2f78e0" stop-opacity="0.00"/><stop offset="0.184" stop-color="#2f78e0" stop-opacity="0.10"/><stop offset="0.991" stop-color="#2f78e0" stop-opacity="0.10"/></linearGradient><linearGradient id="fc21"><stop offset="0.006" stop-color="#2f78e0" stop-opacity="0.01"/><stop offset="0.105" stop-color="#2f78e0" stop-opacity="0.16"/><stop offset="0.994" stop-color="#2f78e0" stop-opacity="0.16"/></linearGradient><linearGradient id="fc22"><stop offset="0.006" stop-color="#2f78e0" stop-opacity="0.02"/><stop offset="0.105" stop-color="#2f78e0" stop-opacity="0.36"/><stop offset="0.994" stop-color="#2f78e0" stop-opacity="0.36"/></linearGradient><linearGradient id="fc23"><stop offset="0.006" stop-color="#2f78e0" stop-opacity="0.01"/><stop offset="0.105" stop-color="#2f78e0" stop-opacity="0.16"/><stop offset="0.994" stop-color="#2f78e0" stop-opacity="0.16"/></linearGradient><linearGradient id="fc24"><stop offset="0.015" stop-color="#2f78e0" stop-opacity="0.00"/><stop offset="0.742" stop-color="#2f78e0" stop-opacity="0.03"/><stop offset="0.985" stop-color="#2f78e0" stop-opacity="0.00"/></linearGradient><linearGradient id="fc25"><stop offset="0.015" stop-color="#2f78e0" stop-opacity="0.00"/><stop offset="0.318" stop-color="#2f78e0" stop-opacity="0.08"/><stop offset="0.803" stop-color="#2f78e0" stop-opacity="0.06"/><stop offset="0.985" stop-color="#2f78e0" stop-opacity="0.00"/></linearGradient><linearGradient id="fc26"><stop offset="0.015" stop-color="#2f78e0" stop-opacity="0.00"/><stop offset="0.288" stop-color="#2f78e0" stop-opacity="0.16"/><stop offset="0.773" stop-color="#2f78e0" stop-opacity="0.15"/><stop offset="0.985" stop-color="#2f78e0" stop-opacity="0.01"/></linearGradient><linearGradient id="fc27"><stop offset="0.015" stop-color="#2f78e0" stop-opacity="0.00"/><stop offset="0.258" stop-color="#2f78e0" stop-opacity="0.27"/><stop offset="0.742" stop-color="#2f78e0" stop-opacity="0.27"/><stop offset="0.985" stop-color="#2f78e0" stop-opacity="0.01"/></linearGradient><linearGradient id="fc28"><stop offset="0.015" stop-color="#2f78e0" stop-opacity="0.01"/><stop offset="0.258" stop-color="#2f78e0" stop-opacity="0.35"/><stop offset="0.742" stop-color="#2f78e0" stop-opacity="0.35"/><stop offset="0.985" stop-color="#2f78e0" stop-opacity="0.02"/></linearGradient><linearGradient id="fc29"><stop offset="0.015" stop-color="#2f78e0" stop-opacity="0.01"/><stop offset="0.258" stop-color="#2f78e0" stop-opacity="0.35"/><stop offset="0.742" stop-color="#2f78e0" stop-opacity="0.35"/><stop offset="0.985" stop-color="#2f78e0" stop-opacity="0.02"/></linearGradient><linearGradient id="fc30"><stop offset="0.015" stop-color="#2f78e0" stop-opacity="0.00"/><stop offset="0.258" stop-color="#2f78e0" stop-opacity="0.27"/><stop offset="0.742" stop-color="#2f78e0" stop-opacity="0.27"/><stop offset="0.985" stop-color="#2f78e0" stop-opacity="0.01"/></linearGradient><linearGradient id="fc31"><stop offset="0.015" stop-color="#2f78e0" stop-opacity="0.00"/><stop offset="0.288" stop-color="#2f78e0" stop-opacity="0.16"/><stop offset="0.773" stop-color="#2f78e0" stop-opacity="0.15"/><stop offset="0.985" stop-color="#2f78e0" stop-opacity="0.01"/></linearGradient><linearGradient id="fc32"><stop offset="0.015" stop-color="#2f78e0" stop-opacity="0.00"/><stop offset="0.318" stop-color="#2f78e0" stop-opacity="0.08"/><stop offset="0.803" stop-color="#2f78e0" stop-opacity="0.06"/><stop offset="0.985" stop-color="#2f78e0" stop-opacity="0.00"/></linearGradient><linearGradient id="fc33"><stop offset="0.015" stop-color="#2f78e0" stop-opacity="0.00"/><stop offset="0.742" stop-color="#2f78e0" stop-opacity="0.03"/><stop offset="0.985" stop-color="#2f78e0" stop-opacity="0.00"/></linearGradient><linearGradient id="fc34"><stop offset="0.014" stop-color="#2f78e0" stop-opacity="0.00"/><stop offset="0.797" stop-color="#2f78e0" stop-opacity="0.01"/><stop offset="0.986" stop-color="#2f78e0" stop-opacity="0.00"/></linearGradient><linearGradient id="fc35"><stop offset="0.014" stop-color="#2f78e0" stop-opacity="0.00"/><stop offset="0.284" stop-color="#2f78e0" stop-opacity="0.09"/><stop offset="0.743" stop-color="#2f78e0" stop-opacity="0.07"/><stop offset="0.986" stop-color="#2f78e0" stop-opacity="0.00"/></linearGradient><linearGradient id="fc36"><stop offset="0.014" stop-color="#2f78e0" stop-opacity="0.01"/><stop offset="0.230" stop-color="#2f78e0" stop-opacity="0.22"/><stop offset="0.689" stop-color="#2f78e0" stop-opacity="0.20"/><stop offset="0.986" stop-color="#2f78e0" stop-opacity="0.01"/></linearGradient><linearGradient id="fc37"><stop offset="0.014" stop-color="#2f78e0" stop-opacity="0.01"/><stop offset="0.230" stop-color="#2f78e0" stop-opacity="0.34"/><stop offset="0.662" stop-color="#2f78e0" stop-opacity="0.34"/><stop offset="0.986" stop-color="#2f78e0" stop-opacity="0.01"/></linearGradient><linearGradient id="fc38"><stop offset="0.014" stop-color="#2f78e0" stop-opacity="0.01"/><stop offset="0.230" stop-color="#2f78e0" stop-opacity="0.34"/><stop offset="0.662" stop-color="#2f78e0" stop-opacity="0.34"/><stop offset="0.986" stop-color="#2f78e0" stop-opacity="0.01"/></linearGradient><linearGradient id="fc39"><stop offset="0.014" stop-color="#2f78e0" stop-opacity="0.01"/><stop offset="0.230" stop-color="#2f78e0" stop-opacity="0.22"/><stop offset="0.689" stop-color="#2f78e0" stop-opacity="0.20"/><stop offset="0.986" stop-color="#2f78e0" stop-opacity="0.01"/></linearGradient><linearGradient id="fc40"><stop offset="0.014" stop-color="#2f78e0" stop-opacity="0.00"/><stop offset="0.284" stop-color="#2f78e0" stop-opacity="0.09"/><stop offset="0.743" stop-color="#2f78e0" stop-opacity="0.07"/><stop offset="0.986" stop-color="#2f78e0" stop-opacity="0.00"/></linearGradient><linearGradient id="fc41"><stop offset="0.014" stop-color="#2f78e0" stop-opacity="0.00"/><stop offset="0.797" stop-color="#2f78e0" stop-opacity="0.01"/><stop offset="0.986" stop-color="#2f78e0" stop-opacity="0.00"/></linearGradient><linearGradient id="fc42"><stop offset="0.006" stop-color="#2f78e0" stop-opacity="0.05"/><stop offset="0.994" stop-color="#2f78e0" stop-opacity="0.05"/></linearGradient><linearGradient id="fc43"><stop offset="0.006" stop-color="#2f78e0" stop-opacity="0.13"/><stop offset="0.994" stop-color="#2f78e0" stop-opacity="0.13"/></linearGradient><linearGradient id="fc44"><stop offset="0.006" stop-color="#2f78e0" stop-opacity="0.13"/><stop offset="0.994" stop-color="#2f78e0" stop-opacity="0.13"/></linearGradient><linearGradient id="fc45"><stop offset="0.006" stop-color="#2f78e0" stop-opacity="0.05"/><stop offset="0.994" stop-color="#2f78e0" stop-opacity="0.05"/></linearGradient><linearGradient id="fc46"><stop offset="0.006" stop-color="#2f78e0" stop-opacity="0.02"/><stop offset="0.994" stop-color="#2f78e0" stop-opacity="0.02"/></linearGradient><linearGradient id="fc47"><stop offset="0.006" stop-color="#2f78e0" stop-opacity="0.12"/><stop offset="0.994" stop-color="#2f78e0" stop-opacity="0.12"/></linearGradient><linearGradient id="fc48"><stop offset="0.006" stop-color="#2f78e0" stop-opacity="0.12"/><stop offset="0.994" stop-color="#2f78e0" stop-opacity="0.12"/></linearGradient><linearGradient id="fc49"><stop offset="0.006" stop-color="#2f78e0" stop-opacity="0.02"/><stop offset="0.994" stop-color="#2f78e0" stop-opacity="0.02"/></linearGradient><linearGradient id="fc50"><stop offset="0.006" stop-color="#2f78e0" stop-opacity="0.02"/><stop offset="0.994" stop-color="#2f78e0" stop-opacity="0.04"/></linearGradient><linearGradient id="fc51"><stop offset="0.006" stop-color="#2f78e0" stop-opacity="0.12"/><stop offset="0.994" stop-color="#2f78e0" stop-opacity="0.18"/></linearGradient><linearGradient id="fc52"><stop offset="0.006" stop-color="#2f78e0" stop-opacity="0.12"/><stop offset="0.994" stop-color="#2f78e0" stop-opacity="0.18"/></linearGradient><linearGradient id="fc53"><stop offset="0.006" stop-color="#2f78e0" stop-opacity="0.02"/><stop offset="0.994" stop-color="#2f78e0" stop-opacity="0.04"/></linearGradient><linearGradient id="fc54"><stop offset="0.006" stop-color="#2f78e0" stop-opacity="0.02"/><stop offset="0.994" stop-color="#2f78e0" stop-opacity="0.02"/></linearGradient><linearGradient id="fc55"><stop offset="0.006" stop-color="#2f78e0" stop-opacity="0.10"/><stop offset="0.994" stop-color="#2f78e0" stop-opacity="0.12"/></linearGradient><linearGradient id="fc56"><stop offset="0.006" stop-color="#2f78e0" stop-opacity="0.10"/><stop offset="0.994" stop-color="#2f78e0" stop-opacity="0.12"/></linearGradient><linearGradient id="fc57"><stop offset="0.006" stop-color="#2f78e0" stop-opacity="0.02"/><stop offset="0.994" stop-color="#2f78e0" stop-opacity="0.02"/></linearGradient><linearGradient id="fc58"><stop offset="0.006" stop-color="#2f78e0" stop-opacity="0.11"/><stop offset="0.994" stop-color="#2f78e0" stop-opacity="0.11"/></linearGradient><linearGradient id="fc59"><stop offset="0.006" stop-color="#2f78e0" stop-opacity="0.25"/><stop offset="0.994" stop-color="#2f78e0" stop-opacity="0.25"/></linearGradient><linearGradient id="fc60"><stop offset="0.006" stop-color="#2f78e0" stop-opacity="0.11"/><stop offset="0.994" stop-color="#2f78e0" stop-opacity="0.11"/></linearGradient><linearGradient id="fc61"><stop offset="0.012" stop-color="#0000e7" stop-opacity="0.07"/><stop offset="0.085" stop-color="#0000e7" stop-opacity="0.07"/><stop offset="0.110" stop-color="#0000ca" stop-opacity="0.02"/><stop offset="0.134" stop-color="#0000bd" stop-opacity="0.00"/><stop offset="0.329" stop-color="#0000be" stop-opacity="0.00"/><stop offset="0.354" stop-color="#0000c8" stop-opacity="0.02"/><stop offset="0.622" stop-color="#0000cc" stop-opacity="0.02"/><stop offset="0.646" stop-color="#0017ff" stop-opacity="0.15"/><stop offset="0.720" stop-color="#00aaff" stop-opacity="0.39"/><stop offset="0.744" stop-color="#00e8ff" stop-opacity="0.49"/><stop offset="0.768" stop-color="#34ffcb" stop-opacity="0.61"/><stop offset="0.793" stop-color="#54ffab" stop-opacity="0.66"/><stop offset="0.817" stop-color="#63ff9c" stop-opacity="0.69"/><stop offset="0.890" stop-color="#63ff9c" stop-opacity="0.69"/><stop offset="0.915" stop-color="#54ffab" stop-opacity="0.66"/><stop offset="0.939" stop-color="#37ffc8" stop-opacity="0.61"/><stop offset="0.963" stop-color="#00efff" stop-opacity="0.50"/><stop offset="0.988" stop-color="#00c3ff" stop-opacity="0.43"/></linearGradient><linearGradient id="fc62"><stop offset="0.012" stop-color="#001aff" stop-opacity="0.15"/><stop offset="0.085" stop-color="#001aff" stop-opacity="0.15"/><stop offset="0.110" stop-color="#0000da" stop-opacity="0.05"/><stop offset="0.134" stop-color="#0000bd" stop-opacity="0.00"/><stop offset="0.329" stop-color="#0000bf" stop-opacity="0.00"/><stop offset="0.354" stop-color="#0000d5" stop-opacity="0.04"/><stop offset="0.622" stop-color="#0000dd" stop-opacity="0.05"/><stop offset="0.646" stop-color="#0082ff" stop-opacity="0.32"/><stop offset="0.671" stop-color="#00f7ff" stop-opacity="0.51"/><stop offset="0.720" stop-color="#c4ff3b" stop-opacity="0.84"/><stop offset="0.744" stop-color="#ffb300"/><stop offset="0.768" stop-color="#ff1000"/><stop offset="0.793" stop-color="#c90000"/><stop offset="0.817" stop-color="#a80000"/><stop offset="0.890" stop-color="#a80000"/><stop offset="0.915" stop-color="#c90000"/><stop offset="0.939" stop-color="#ff0a00"/><stop offset="0.963" stop-color="#ffa400"/><stop offset="0.988" stop-color="#faff05" stop-opacity="0.93"/></linearGradient><linearGradient id="fc63"><stop offset="0.012" stop-color="#0000e7" stop-opacity="0.07"/><stop offset="0.085" stop-color="#0000e7" stop-opacity="0.07"/><stop offset="0.110" stop-color="#0000ca" stop-opacity="0.02"/><stop offset="0.134" stop-color="#0000bd" stop-opacity="0.00"/><stop offset="0.329" stop-color="#0000be" stop-opacity="0.00"/><stop offset="0.354" stop-color="#0000c8" stop-opacity="0.02"/><stop offset="0.622" stop-color="#0000cc" stop-opacity="0.02"/><stop offset="0.646" stop-color="#0017ff" stop-opacity="0.15"/><stop offset="0.720" stop-color="#00aaff" stop-opacity="0.39"/><stop offset="0.744" stop-color="#00e8ff" stop-opacity="0.49"/><stop offset="0.768" stop-color="#34ffcb" stop-opacity="0.61"/><stop offset="0.793" stop-color="#54ffab" stop-opacity="0.66"/><stop offset="0.817" stop-color="#63ff9c" stop-opacity="0.69"/><stop offset="0.890" stop-color="#63ff9c" stop-opacity="0.69"/><stop offset="0.915" stop-color="#54ffab" stop-opacity="0.66"/><stop offset="0.939" stop-color="#37ffc8" stop-opacity="0.61"/><stop offset="0.963" stop-color="#00efff" stop-opacity="0.50"/><stop offset="0.988" stop-color="#00c3ff" stop-opacity="0.43"/></linearGradient><linearGradient id="fc64"><stop offset="0.012" stop-color="#004dff" stop-opacity="0.23"/><stop offset="0.037" stop-color="#0024ff" stop-opacity="0.17"/><stop offset="0.061" stop-color="#001eff" stop-opacity="0.16"/><stop offset="0.134" stop-color="#0040ff" stop-opacity="0.21"/><stop offset="0.207" stop-color="#0047ff" stop-opacity="0.22"/><stop offset="0.256" stop-color="#0036ff" stop-opacity="0.20"/><stop offset="0.305" stop-color="#001eff" stop-opacity="0.16"/><stop offset="0.329" stop-color="#0009ff" stop-opacity="0.12"/><stop offset="0.378" stop-color="#0000d0" stop-opacity="0.03"/><stop offset="0.451" stop-color="#0000c5" stop-opacity="0.01"/><stop offset="0.768" stop-color="#0000bd" stop-opacity="0.00"/><stop offset="0.793" stop-color="#0000d2" stop-opacity="0.04"/><stop offset="0.988" stop-color="#0000d2" stop-opacity="0.04"/></linearGradient><linearGradient id="fc65"><stop offset="0.012" stop-color="#a5ff5a" stop-opacity="0.79"/><stop offset="0.037" stop-color="#19ffe6" stop-opacity="0.57"/><stop offset="0.061" stop-color="#05fffa" stop-opacity="0.53"/><stop offset="0.085" stop-color="#37ffc8" stop-opacity="0.62"/><stop offset="0.110" stop-color="#5dffa2" stop-opacity="0.68"/><stop offset="0.159" stop-color="#90ff6f" stop-opacity="0.76"/><stop offset="0.207" stop-color="#90ff6f" stop-opacity="0.76"/><stop offset="0.232" stop-color="#85ff7a" stop-opacity="0.74"/><stop offset="0.305" stop-color="#05fffa" stop-opacity="0.53"/><stop offset="0.329" stop-color="#00bcff" stop-opacity="0.42"/><stop offset="0.378" stop-color="#0000fd" stop-opacity="0.10"/><stop offset="0.402" stop-color="#0000e1" stop-opacity="0.06"/><stop offset="0.622" stop-color="#0000ce" stop-opacity="0.03"/><stop offset="0.646" stop-color="#0000c0" stop-opacity="0.01"/><stop offset="0.768" stop-color="#0000bd" stop-opacity="0.00"/><stop offset="0.793" stop-color="#0007ff" stop-opacity="0.12"/><stop offset="0.988" stop-color="#0007ff" stop-opacity="0.12"/></linearGradient><linearGradient id="fc66"><stop offset="0.012" stop-color="#004dff" stop-opacity="0.23"/><stop offset="0.037" stop-color="#0024ff" stop-opacity="0.17"/><stop offset="0.061" stop-color="#001eff" stop-opacity="0.16"/><stop offset="0.134" stop-color="#0040ff" stop-opacity="0.21"/><stop offset="0.207" stop-color="#0047ff" stop-opacity="0.22"/><stop offset="0.256" stop-color="#0036ff" stop-opacity="0.20"/><stop offset="0.305" stop-color="#001eff" stop-opacity="0.16"/><stop offset="0.329" stop-color="#0009ff" stop-opacity="0.12"/><stop offset="0.378" stop-color="#0000d0" stop-opacity="0.03"/><stop offset="0.451" stop-color="#0000c5" stop-opacity="0.01"/><stop offset="0.768" stop-color="#0000bd" stop-opacity="0.00"/><stop offset="0.793" stop-color="#0000d2" stop-opacity="0.04"/><stop offset="0.988" stop-color="#0000d2" stop-opacity="0.04"/></linearGradient><pattern id="stc" x="0" y="0" width="2.4568" height="171" patternUnits="userSpaceOnUse"><rect x="0" y="0" width="1.351" height="171" fill="#000" opacity="0.3"/></pattern></defs><rect x="0" y="0" width="199" height="171" fill="url(#bgc)"/><rect x="44.22" y="33" width="39.31" height="1" fill="url(#fc0)"/><rect x="44.22" y="34" width="39.31" height="1" fill="url(#fc1)"/><rect x="44.22" y="35" width="39.31" height="1" fill="url(#fc2)"/><rect x="44.22" y="36" width="39.31" height="1" fill="url(#fc3)"/><rect x="44.22" y="37" width="39.31" height="1" fill="url(#fc4)"/><rect x="90.90" y="37" width="29.48" height="1" fill="url(#fc5)"/><rect x="90.90" y="38" width="29.48" height="1" fill="url(#fc6)"/><rect x="90.90" y="39" width="29.48" height="1" fill="url(#fc7)"/><rect x="90.90" y="40" width="29.48" height="1" fill="url(#fc8)"/><rect x="0.00" y="122" width="199.00" height="1" fill="url(#fc9)"/><rect x="0.00" y="123" width="199.00" height="1" fill="url(#fc10)"/><rect x="0.00" y="124" width="199.00" height="1" fill="url(#fc11)"/><rect x="0.00" y="125" width="199.00" height="1" fill="url(#fc12)"/><rect x="0.00" y="126" width="199.00" height="1" fill="url(#fc13)"/><rect x="0.00" y="65" width="27.02" height="1" fill="url(#fc14)"/><rect x="0.00" y="66" width="27.02" height="1" fill="url(#fc15)"/><rect x="0.00" y="67" width="27.02" height="1" fill="url(#fc16)"/><rect x="0.00" y="68" width="27.02" height="1" fill="url(#fc17)"/><rect x="58.96" y="10" width="140.04" height="1" fill="url(#fc18)"/><rect x="58.96" y="11" width="140.04" height="1" fill="url(#fc19)"/><rect x="58.96" y="12" width="140.04" height="1" fill="url(#fc20)"/><rect x="0.00" y="3" width="199.00" height="1" fill="url(#fc21)"/><rect x="0.00" y="4" width="199.00" height="1" fill="url(#fc22)"/><rect x="0.00" y="5" width="199.00" height="1" fill="url(#fc23)"/><rect x="49.14" y="53" width="81.07" height="1" fill="url(#fc24)"/><rect x="49.14" y="54" width="81.07" height="1" fill="url(#fc25)"/><rect x="49.14" y="55" width="81.07" height="1" fill="url(#fc26)"/><rect x="49.14" y="56" width="81.07" height="1" fill="url(#fc27)"/><rect x="49.14" y="57" width="81.07" height="1" fill="url(#fc28)"/><rect x="49.14" y="58" width="81.07" height="1" fill="url(#fc29)"/><rect x="49.14" y="59" width="81.07" height="1" fill="url(#fc30)"/><rect x="49.14" y="60" width="81.07" height="1" fill="url(#fc31)"/><rect x="49.14" y="61" width="81.07" height="1" fill="url(#fc32)"/><rect x="49.14" y="62" width="81.07" height="1" fill="url(#fc33)"/><rect x="39.31" y="66" width="90.90" height="1" fill="url(#fc34)"/><rect x="39.31" y="67" width="90.90" height="1" fill="url(#fc35)"/><rect x="39.31" y="68" width="90.90" height="1" fill="url(#fc36)"/><rect x="39.31" y="69" width="90.90" height="1" fill="url(#fc37)"/><rect x="39.31" y="70" width="90.90" height="1" fill="url(#fc38)"/><rect x="39.31" y="71" width="90.90" height="1" fill="url(#fc39)"/><rect x="39.31" y="72" width="90.90" height="1" fill="url(#fc40)"/><rect x="39.31" y="73" width="90.90" height="1" fill="url(#fc41)"/><rect x="0.00" y="24" width="199.00" height="1" fill="url(#fc42)"/><rect x="0.00" y="25" width="199.00" height="1" fill="url(#fc43)"/><rect x="0.00" y="26" width="199.00" height="1" fill="url(#fc44)"/><rect x="0.00" y="27" width="199.00" height="1" fill="url(#fc45)"/><rect x="0.00" y="46" width="199.00" height="1" fill="url(#fc46)"/><rect x="0.00" y="47" width="199.00" height="1" fill="url(#fc47)"/><rect x="0.00" y="48" width="199.00" height="1" fill="url(#fc48)"/><rect x="0.00" y="49" width="199.00" height="1" fill="url(#fc49)"/><rect x="0.00" y="102" width="199.00" height="1" fill="url(#fc50)"/><rect x="0.00" y="103" width="199.00" height="1" fill="url(#fc51)"/><rect x="0.00" y="104" width="199.00" height="1" fill="url(#fc52)"/><rect x="0.00" y="105" width="199.00" height="1" fill="url(#fc53)"/><rect x="0.00" y="138" width="199.00" height="1" fill="url(#fc54)"/><rect x="0.00" y="139" width="199.00" height="1" fill="url(#fc55)"/><rect x="0.00" y="140" width="199.00" height="1" fill="url(#fc56)"/><rect x="0.00" y="141" width="199.00" height="1" fill="url(#fc57)"/><rect x="0.00" y="168" width="199.00" height="1" fill="url(#fc58)"/><rect x="0.00" y="169" width="199.00" height="1" fill="url(#fc59)"/><rect x="0.00" y="170" width="199.00" height="1" fill="url(#fc60)"/><rect x="24.9" y="81" width="152.10" height="12.50" fill="#000030" opacity="0.5" shape-rendering="auto"/><rect x="0" y="0" width="199" height="171" fill="url(#stc)" shape-rendering="auto"/><rect x="0.00" y="86" width="100.73" height="1" fill="url(#fc61)"/><rect x="0.00" y="87" width="100.73" height="1" fill="url(#fc62)"/><rect x="0.00" y="88" width="100.73" height="1" fill="url(#fc63)"/><rect x="98.27" y="86" width="100.73" height="1" fill="url(#fc64)"/><rect x="98.27" y="87" width="100.73" height="1" fill="url(#fc65)"/><rect x="98.27" y="88" width="100.73" height="1" fill="url(#fc66)"/><rect x="0" y="0" width="199" height="171" fill="url(#stc)" opacity="0.35" shape-rendering="auto"/></svg><div class="ax axl"></div></div>
<div class="cb" style="left:241px;top:288px;width:11px;height:171px"></div>
<div class="t title" style="left:-70.65px;width:400px;text-align:center;top:274.8px">Range-Angle MAP(12) : Noise +</div>
<div class="t tk" style="right:521.9px;top:282.60px">10</div>
<div class="t tk" style="right:521.9px;top:316.80px">8</div>
<div class="t tk" style="right:521.9px;top:351.00px">6</div>
<div class="t tk" style="right:521.9px;top:385.20px">4</div>
<div class="t tk" style="right:521.9px;top:419.40px">2</div>
<div class="t tk" style="right:521.9px;top:453.60px">0</div>
<div class="t tk" style="left:-19.50px;width:100px;text-align:center;top:463.80px">−40</div>
<div class="t tk" style="left:30.25px;width:100px;text-align:center;top:463.80px">−20</div>
<div class="t tk" style="left:80.50px;width:100px;text-align:center;top:463.80px">0</div>
<div class="t tk" style="left:130.25px;width:100px;text-align:center;top:463.80px">20</div>
<div class="t tk" style="left:180.00px;width:100px;text-align:center;top:463.80px">40</div>
<div class="t tk" style="left:255.9px;top:293.00px;letter-spacing:-0.45px">0.7</div>
<div style="position:absolute;left:250.4px;top:297.60px;width:1.6px;height:1px;background:rgba(30,30,30,.4)"></div>
<div class="t tk" style="left:255.9px;top:319.17px;letter-spacing:-0.45px">0.6</div>
<div style="position:absolute;left:250.4px;top:323.77px;width:1.6px;height:1px;background:rgba(30,30,30,.4)"></div>
<div class="t tk" style="left:255.9px;top:345.34px;letter-spacing:-0.45px">0.5</div>
<div style="position:absolute;left:250.4px;top:349.94px;width:1.6px;height:1px;background:rgba(30,30,30,.4)"></div>
<div class="t tk" style="left:255.9px;top:371.51px;letter-spacing:-0.45px">0.4</div>
<div style="position:absolute;left:250.4px;top:376.11px;width:1.6px;height:1px;background:rgba(30,30,30,.4)"></div>
<div class="t tk" style="left:255.9px;top:397.68px;letter-spacing:-0.45px">0.3</div>
<div style="position:absolute;left:250.4px;top:402.28px;width:1.6px;height:1px;background:rgba(30,30,30,.4)"></div>
<div class="t tk" style="left:255.9px;top:423.85px;letter-spacing:-0.45px">0.2</div>
<div style="position:absolute;left:250.4px;top:428.45px;width:1.6px;height:1px;background:rgba(30,30,30,.4)"></div>
<div class="t tk" style="left:255.9px;top:450.02px;letter-spacing:-0.45px">0.1</div>
<div style="position:absolute;left:250.4px;top:454.62px;width:1.6px;height:1px;background:rgba(30,30,30,.4)"></div>
<div class="t lab" style="left:31px;width:200px;text-align:center;top:476.80px">Angle [deg.]</div>
<div class="t lab" style="left:-92px;width:200px;text-align:center;top:367.00px;transform:rotate(-90deg)">Range [m]</div>
<div class="cap" style="left:93.3px;width:60px;text-align:center;top:515.4px"><i>(</i><b>c</b><i>)</i></div>
<div class="plot" style="left:310px;top:288px;width:199px;height:171px"><svg width="199" height="171" viewBox="0 0 199 171" style="position:absolute;left:0;top:0;display:block;filter:blur(0.7px)" shape-rendering="crispEdges"><defs><linearGradient id="bgd" x1="0" y1="0" x2="0" y2="1"><stop offset="0.0000" stop-color="#000030"/><stop offset="0.0146" stop-color="#000a78"/><stop offset="0.0468" stop-color="#0c20a8"/><stop offset="0.0819" stop-color="#1030ba"/><stop offset="0.5848" stop-color="#0e2cb6"/><stop offset="0.7895" stop-color="#0a22a2"/><stop offset="0.9064" stop-color="#081a90"/><stop offset="1.0000" stop-color="#041078"/></linearGradient><linearGradient id="fd0"><stop offset="0.031" stop-color="#30c0b0" stop-opacity="0.00"/><stop offset="0.719" stop-color="#30c0b0" stop-opacity="0.03"/><stop offset="0.969" stop-color="#30c0b0" stop-opacity="0.00"/></linearGradient><linearGradient id="fd1"><stop offset="0.031" stop-color="#30c0b0" stop-opacity="0.01"/><stop offset="0.219" stop-color="#30c0b0" stop-opacity="0.10"/><stop offset="0.344" stop-color="#30c0b0" stop-opacity="0.24"/><stop offset="0.531" stop-color="#30c0b0" stop-opacity="0.29"/><stop offset="0.719" stop-color="#30c0b0" stop-opacity="0.23"/><stop offset="0.969" stop-color="#30c0b0" stop-opacity="0.00"/></linearGradient><linearGradient id="fd2"><stop offset="0.031" stop-color="#30c0b0" stop-opacity="0.01"/><stop offset="0.219" stop-color="#30c0b0" stop-opacity="0.21"/><stop offset="0.344" stop-color="#30c0b0" stop-opacity="0.47"/><stop offset="0.469" stop-color="#30c0b0" stop-opacity="0.56"/><stop offset="0.594" stop-color="#30c0b0" stop-opacity="0.54"/><stop offset="0.719" stop-color="#30c0b0" stop-opacity="0.46"/><stop offset="0.969" stop-color="#30c0b0" stop-opacity="0.00"/></linearGradient><linearGradient id="fd3"><stop offset="0.031" stop-color="#30c0b0" stop-opacity="0.01"/><stop offset="0.219" stop-color="#30c0b0" stop-opacity="0.10"/><stop offset="0.344" stop-color="#30c0b0" stop-opacity="0.24"/><stop offset="0.531" stop-color="#30c0b0" stop-opacity="0.29"/><stop offset="0.719" stop-color="#30c0b0" stop-opacity="0.23"/><stop offset="0.969" stop-color="#30c0b0" stop-opacity="0.00"/></linearGradient><linearGradient id="fd4"><stop offset="0.031" stop-color="#30c0b0" stop-opacity="0.00"/><stop offset="0.719" stop-color="#30c0b0" stop-opacity="0.03"/><stop offset="0.969" stop-color="#30c0b0" stop-opacity="0.00"/></linearGradient><linearGradient id="fd5"><stop offset="0.042" stop-color="#2f78e0" stop-opacity="0.00"/><stop offset="0.292" stop-color="#2f78e0" stop-opacity="0.09"/><stop offset="0.708" stop-color="#2f78e0" stop-opacity="0.07"/><stop offset="0.958" stop-color="#2f78e0" stop-opacity="0.00"/></linearGradient><linearGradient id="fd6"><stop offset="0.042" stop-color="#2f78e0" stop-opacity="0.01"/><stop offset="0.208" stop-color="#2f78e0" stop-opacity="0.48"/><stop offset="0.292" stop-color="#2f78e0" stop-opacity="0.57"/><stop offset="0.625" stop-color="#2f78e0" stop-opacity="0.57"/><stop offset="0.708" stop-color="#2f78e0" stop-opacity="0.45"/><stop offset="0.875" stop-color="#2f78e0" stop-opacity="0.09"/><stop offset="0.958" stop-color="#2f78e0" stop-opacity="0.00"/></linearGradient><linearGradient id="fd7"><stop offset="0.042" stop-color="#2f78e0" stop-opacity="0.02"/><stop offset="0.208" stop-color="#2f78e0" stop-opacity="0.66"/><stop offset="0.292" stop-color="#2f78e0" stop-opacity="0.78"/><stop offset="0.625" stop-color="#2f78e0" stop-opacity="0.78"/><stop offset="0.708" stop-color="#2f78e0" stop-opacity="0.61"/><stop offset="0.875" stop-color="#2f78e0" stop-opacity="0.13"/><stop offset="0.958" stop-color="#2f78e0" stop-opacity="0.00"/></linearGradient><linearGradient id="fd8"><stop offset="0.042" stop-color="#2f78e0" stop-opacity="0.00"/><stop offset="0.208" stop-color="#2f78e0" stop-opacity="0.19"/><stop offset="0.375" stop-color="#2f78e0" stop-opacity="0.22"/><stop offset="0.625" stop-color="#2f78e0" stop-opacity="0.22"/><stop offset="0.958" stop-color="#2f78e0" stop-opacity="0.00"/></linearGradient><linearGradient id="fd9"><stop offset="0.006" stop-color="#2a88c8" stop-opacity="0.16"/><stop offset="0.228" stop-color="#2a88c8" stop-opacity="0.06"/><stop offset="0.525" stop-color="#2a88c8" stop-opacity="0.07"/><stop offset="0.994" stop-color="#2a88c8" stop-opacity="0.09"/></linearGradient><linearGradient id="fd10"><stop offset="0.006" stop-color="#2a88c8" stop-opacity="0.54"/><stop offset="0.093" stop-color="#2a88c8" stop-opacity="0.35"/><stop offset="0.216" stop-color="#2a88c8" stop-opacity="0.20"/><stop offset="0.500" stop-color="#2a88c8" stop-opacity="0.20"/><stop offset="0.562" stop-color="#2a88c8" stop-opacity="0.32"/><stop offset="0.994" stop-color="#2a88c8" stop-opacity="0.32"/></linearGradient><linearGradient id="fd11"><stop offset="0.006" stop-color="#2a88c8" stop-opacity="0.82"/><stop offset="0.080" stop-color="#2a88c8" stop-opacity="0.55"/><stop offset="0.204" stop-color="#2a88c8" stop-opacity="0.31"/><stop offset="0.500" stop-color="#2a88c8" stop-opacity="0.31"/><stop offset="0.549" stop-color="#2a88c8" stop-opacity="0.48"/><stop offset="0.994" stop-color="#2a88c8" stop-opacity="0.49"/></linearGradient><linearGradient id="fd12"><stop offset="0.006" stop-color="#2a88c8" stop-opacity="0.54"/><stop offset="0.093" stop-color="#2a88c8" stop-opacity="0.35"/><stop offset="0.216" stop-color="#2a88c8" stop-opacity="0.20"/><stop offset="0.500" stop-color="#2a88c8" stop-opacity="0.20"/><stop offset="0.562" stop-color="#2a88c8" stop-opacity="0.32"/><stop offset="0.994" stop-color="#2a88c8" stop-opacity="0.32"/></linearGradient><linearGradient id="fd13"><stop offset="0.006" stop-color="#2a88c8" stop-opacity="0.16"/><stop offset="0.228" stop-color="#2a88c8" stop-opacity="0.06"/><stop offset="0.525" stop-color="#2a88c8" stop-opacity="0.07"/><stop offset="0.994" stop-color="#2a88c8" stop-opacity="0.09"/></linearGradient><linearGradient id="fd14"><stop offset="0.045" stop-color="#2f78e0" stop-opacity="0.11"/><stop offset="0.682" stop-color="#2f78e0" stop-opacity="0.05"/><stop offset="0.955" stop-color="#2f78e0" stop-opacity="0.00"/></linearGradient><linearGradient id="fd15"><stop offset="0.045" stop-color="#2f78e0" stop-opacity="0.83"/><stop offset="0.500" stop-color="#2f78e0" stop-opacity="0.62"/><stop offset="0.591" stop-color="#2f78e0" stop-opacity="0.54"/><stop offset="0.864" stop-color="#2f78e0" stop-opacity="0.10"/><stop offset="0.955" stop-color="#2f78e0" stop-opacity="0.00"/></linearGradient><linearGradient id="fd16"><stop offset="0.045" stop-color="#2f78e0"/><stop offset="0.500" stop-color="#2f78e0" stop-opacity="0.99"/><stop offset="0.591" stop-color="#2f78e0" stop-opacity="0.86"/><stop offset="0.864" stop-color="#2f78e0" stop-opacity="0.16"/><stop offset="0.955" stop-color="#2f78e0" stop-opacity="0.00"/></linearGradient><linearGradient id="fd17"><stop offset="0.045" stop-color="#2f78e0" stop-opacity="0.44"/><stop offset="0.591" stop-color="#2f78e0" stop-opacity="0.29"/><stop offset="0.955" stop-color="#2f78e0" stop-opacity="0.00"/></linearGradient><linearGradient id="fd18"><stop offset="0.009" stop-color="#2f78e0" stop-opacity="0.00"/><stop offset="0.167" stop-color="#2f78e0" stop-opacity="0.12"/><stop offset="0.991" stop-color="#2f78e0" stop-opacity="0.12"/></linearGradient><linearGradient id="fd19"><stop offset="0.009" stop-color="#2f78e0" stop-opacity="0.00"/><stop offset="0.149" stop-color="#2f78e0" stop-opacity="0.25"/><stop offset="0.991" stop-color="#2f78e0" stop-opacity="0.25"/></linearGradient><linearGradient id="fd20"><stop offset="0.009" stop-color="#2f78e0" stop-opacity="0.00"/><stop offset="0.167" stop-color="#2f78e0" stop-opacity="0.12"/><stop offset="0.991" stop-color="#2f78e0" stop-opacity="0.12"/></linearGradient><linearGradient id="fd21"><stop offset="0.006" stop-color="#2f78e0" stop-opacity="0.01"/><stop offset="0.105" stop-color="#2f78e0" stop-opacity="0.19"/><stop offset="0.994" stop-color="#2f78e0" stop-opacity="0.19"/></linearGradient><linearGradient id="fd22"><stop offset="0.006" stop-color="#2f78e0" stop-opacity="0.03"/><stop offset="0.105" stop-color="#2f78e0" stop-opacity="0.42"/><stop offset="0.994" stop-color="#2f78e0" stop-opacity="0.42"/></linearGradient><linearGradient id="fd23"><stop offset="0.006" stop-color="#2f78e0" stop-opacity="0.01"/><stop offset="0.105" stop-color="#2f78e0" stop-opacity="0.19"/><stop offset="0.994" stop-color="#2f78e0" stop-opacity="0.19"/></linearGradient><linearGradient id="fd24"><stop offset="0.015" stop-color="#2f78e0" stop-opacity="0.00"/><stop offset="0.591" stop-color="#2f78e0" stop-opacity="0.03"/><stop offset="0.985" stop-color="#2f78e0" stop-opacity="0.00"/></linearGradient><linearGradient id="fd25"><stop offset="0.015" stop-color="#2f78e0" stop-opacity="0.00"/><stop offset="0.318" stop-color="#2f78e0" stop-opacity="0.09"/><stop offset="0.803" stop-color="#2f78e0" stop-opacity="0.07"/><stop offset="0.985" stop-color="#2f78e0" stop-opacity="0.00"/></linearGradient><linearGradient id="fd26"><stop offset="0.015" stop-color="#2f78e0" stop-opacity="0.00"/><stop offset="0.258" stop-color="#2f78e0" stop-opacity="0.19"/><stop offset="0.773" stop-color="#2f78e0" stop-opacity="0.18"/><stop offset="0.985" stop-color="#2f78e0" stop-opacity="0.01"/></linearGradient><linearGradient id="fd27"><stop offset="0.015" stop-color="#2f78e0" stop-opacity="0.01"/><stop offset="0.258" stop-color="#2f78e0" stop-opacity="0.32"/><stop offset="0.742" stop-color="#2f78e0" stop-opacity="0.32"/><stop offset="0.985" stop-color="#2f78e0" stop-opacity="0.02"/></linearGradient><linearGradient id="fd28"><stop offset="0.015" stop-color="#2f78e0" stop-opacity="0.01"/><stop offset="0.258" stop-color="#2f78e0" stop-opacity="0.41"/><stop offset="0.742" stop-color="#2f78e0" stop-opacity="0.41"/><stop offset="0.985" stop-color="#2f78e0" stop-opacity="0.02"/></linearGradient><linearGradient id="fd29"><stop offset="0.015" stop-color="#2f78e0" stop-opacity="0.01"/><stop offset="0.258" stop-color="#2f78e0" stop-opacity="0.41"/><stop offset="0.742" stop-color="#2f78e0" stop-opacity="0.41"/><stop offset="0.985" stop-color="#2f78e0" stop-opacity="0.02"/></linearGradient><linearGradient id="fd30"><stop offset="0.015" stop-color="#2f78e0" stop-opacity="0.01"/><stop offset="0.258" stop-color="#2f78e0" stop-opacity="0.32"/><stop offset="0.742" stop-color="#2f78e0" stop-opacity="0.32"/><stop offset="0.985" stop-color="#2f78e0" stop-opacity="0.02"/></linearGradient><linearGradient id="fd31"><stop offset="0.015" stop-color="#2f78e0" stop-opacity="0.00"/><stop offset="0.258" stop-color="#2f78e0" stop-opacity="0.19"/><stop offset="0.773" stop-color="#2f78e0" stop-opacity="0.18"/><stop offset="0.985" stop-color="#2f78e0" stop-opacity="0.01"/></linearGradient><linearGradient id="fd32"><stop offset="0.015" stop-color="#2f78e0" stop-opacity="0.00"/><stop offset="0.318" stop-color="#2f78e0" stop-opacity="0.09"/><stop offset="0.803" stop-color="#2f78e0" stop-opacity="0.07"/><stop offset="0.985" stop-color="#2f78e0" stop-opacity="0.00"/></linearGradient><linearGradient id="fd33"><stop offset="0.015" stop-color="#2f78e0" stop-opacity="0.00"/><stop offset="0.591" stop-color="#2f78e0" stop-opacity="0.03"/><stop offset="0.985" stop-color="#2f78e0" stop-opacity="0.00"/></linearGradient><linearGradient id="fd34"><stop offset="0.014" stop-color="#2f78e0" stop-opacity="0.00"/><stop offset="0.689" stop-color="#2f78e0" stop-opacity="0.03"/><stop offset="0.986" stop-color="#2f78e0" stop-opacity="0.00"/></linearGradient><linearGradient id="fd35"><stop offset="0.014" stop-color="#2f78e0" stop-opacity="0.00"/><stop offset="0.257" stop-color="#2f78e0" stop-opacity="0.10"/><stop offset="0.716" stop-color="#2f78e0" stop-opacity="0.09"/><stop offset="0.986" stop-color="#2f78e0" stop-opacity="0.00"/></linearGradient><linearGradient id="fd36"><stop offset="0.014" stop-color="#2f78e0" stop-opacity="0.01"/><stop offset="0.230" stop-color="#2f78e0" stop-opacity="0.25"/><stop offset="0.689" stop-color="#2f78e0" stop-opacity="0.24"/><stop offset="0.986" stop-color="#2f78e0" stop-opacity="0.01"/></linearGradient><linearGradient id="fd37"><stop offset="0.014" stop-color="#2f78e0" stop-opacity="0.01"/><stop offset="0.230" stop-color="#2f78e0" stop-opacity="0.40"/><stop offset="0.662" stop-color="#2f78e0" stop-opacity="0.40"/><stop offset="0.986" stop-color="#2f78e0" stop-opacity="0.01"/></linearGradient><linearGradient id="fd38"><stop offset="0.014" stop-color="#2f78e0" stop-opacity="0.01"/><stop offset="0.230" stop-color="#2f78e0" stop-opacity="0.40"/><stop offset="0.662" stop-color="#2f78e0" stop-opacity="0.40"/><stop offset="0.986" stop-color="#2f78e0" stop-opacity="0.01"/></linearGradient><linearGradient id="fd39"><stop offset="0.014" stop-color="#2f78e0" stop-opacity="0.01"/><stop offset="0.230" stop-color="#2f78e0" stop-opacity="0.25"/><stop offset="0.689" stop-color="#2f78e0" stop-opacity="0.24"/><stop offset="0.986" stop-color="#2f78e0" stop-opacity="0.01"/></linearGradient><linearGradient id="fd40"><stop offset="0.014" stop-color="#2f78e0" stop-opacity="0.00"/><stop offset="0.257" stop-color="#2f78e0" stop-opacity="0.10"/><stop offset="0.716" stop-color="#2f78e0" stop-opacity="0.09"/><stop offset="0.986" stop-color="#2f78e0" stop-opacity="0.00"/></linearGradient><linearGradient id="fd41"><stop offset="0.014" stop-color="#2f78e0" stop-opacity="0.00"/><stop offset="0.689" stop-color="#2f78e0" stop-opacity="0.03"/><stop offset="0.986" stop-color="#2f78e0" stop-opacity="0.00"/></linearGradient><linearGradient id="fd42"><stop offset="0.006" stop-color="#2f78e0" stop-opacity="0.05"/><stop offset="0.994" stop-color="#2f78e0" stop-opacity="0.05"/></linearGradient><linearGradient id="fd43"><stop offset="0.006" stop-color="#2f78e0" stop-opacity="0.15"/><stop offset="0.994" stop-color="#2f78e0" stop-opacity="0.15"/></linearGradient><linearGradient id="fd44"><stop offset="0.006" stop-color="#2f78e0" stop-opacity="0.15"/><stop offset="0.994" stop-color="#2f78e0" stop-opacity="0.15"/></linearGradient><linearGradient id="fd45"><stop offset="0.006" stop-color="#2f78e0" stop-opacity="0.05"/><stop offset="0.994" stop-color="#2f78e0" stop-opacity="0.05"/></linearGradient><linearGradient id="fd46"><stop offset="0.006" stop-color="#2f78e0" stop-opacity="0.03"/><stop offset="0.994" stop-color="#2f78e0" stop-opacity="0.03"/></linearGradient><linearGradient id="fd47"><stop offset="0.006" stop-color="#2f78e0" stop-opacity="0.14"/><stop offset="0.994" stop-color="#2f78e0" stop-opacity="0.14"/></linearGradient><linearGradient id="fd48"><stop offset="0.006" stop-color="#2f78e0" stop-opacity="0.14"/><stop offset="0.994" stop-color="#2f78e0" stop-opacity="0.14"/></linearGradient><linearGradient id="fd49"><stop offset="0.006" stop-color="#2f78e0" stop-opacity="0.03"/><stop offset="0.994" stop-color="#2f78e0" stop-opacity="0.03"/></linearGradient><linearGradient id="fd50"><stop offset="0.006" stop-color="#2f78e0" stop-opacity="0.03"/><stop offset="0.994" stop-color="#2f78e0" stop-opacity="0.04"/></linearGradient><linearGradient id="fd51"><stop offset="0.006" stop-color="#2f78e0" stop-opacity="0.14"/><stop offset="0.994" stop-color="#2f78e0" stop-opacity="0.21"/></linearGradient><linearGradient id="fd52"><stop offset="0.006" stop-color="#2f78e0" stop-opacity="0.14"/><stop offset="0.994" stop-color="#2f78e0" stop-opacity="0.21"/></linearGradient><linearGradient id="fd53"><stop offset="0.006" stop-color="#2f78e0" stop-opacity="0.03"/><stop offset="0.994" stop-color="#2f78e0" stop-opacity="0.04"/></linearGradient><linearGradient id="fd54"><stop offset="0.006" stop-color="#2f78e0" stop-opacity="0.02"/><stop offset="0.994" stop-color="#2f78e0" stop-opacity="0.03"/></linearGradient><linearGradient id="fd55"><stop offset="0.006" stop-color="#2f78e0" stop-opacity="0.12"/><stop offset="0.994" stop-color="#2f78e0" stop-opacity="0.14"/></linearGradient><linearGradient id="fd56"><stop offset="0.006" stop-color="#2f78e0" stop-opacity="0.12"/><stop offset="0.994" stop-color="#2f78e0" stop-opacity="0.14"/></linearGradient><linearGradient id="fd57"><stop offset="0.006" stop-color="#2f78e0" stop-opacity="0.02"/><stop offset="0.994" stop-color="#2f78e0" stop-opacity="0.03"/></linearGradient><linearGradient id="fd58"><stop offset="0.006" stop-color="#2f78e0" stop-opacity="0.14"/><stop offset="0.994" stop-color="#2f78e0" stop-opacity="0.14"/></linearGradient><linearGradient id="fd59"><stop offset="0.006" stop-color="#2f78e0" stop-opacity="0.30"/><stop offset="0.994" stop-color="#2f78e0" stop-opacity="0.30"/></linearGradient><linearGradient id="fd60"><stop offset="0.006" stop-color="#2f78e0" stop-opacity="0.14"/><stop offset="0.994" stop-color="#2f78e0" stop-opacity="0.14"/></linearGradient><linearGradient id="fd61"><stop offset="0.012" stop-color="#0000e7" stop-opacity="0.07"/><stop offset="0.085" stop-color="#0000e7" stop-opacity="0.07"/><stop offset="0.110" stop-color="#0000ca" stop-opacity="0.02"/><stop offset="0.134" stop-color="#0000bd" stop-opacity="0.00"/><stop offset="0.329" stop-color="#0000be" stop-opacity="0.00"/><stop offset="0.354" stop-color="#0000c8" stop-opacity="0.02"/><stop offset="0.622" stop-color="#0000cc" stop-opacity="0.02"/><stop offset="0.646" stop-color="#0017ff" stop-opacity="0.15"/><stop offset="0.720" stop-color="#00aaff" stop-opacity="0.39"/><stop offset="0.744" stop-color="#00e8ff" stop-opacity="0.49"/><stop offset="0.768" stop-color="#34ffcb" stop-opacity="0.61"/><stop offset="0.793" stop-color="#54ffab" stop-opacity="0.66"/><stop offset="0.817" stop-color="#63ff9c" stop-opacity="0.69"/><stop offset="0.890" stop-color="#63ff9c" stop-opacity="0.69"/><stop offset="0.915" stop-color="#54ffab" stop-opacity="0.66"/><stop offset="0.939" stop-color="#37ffc8" stop-opacity="0.61"/><stop offset="0.963" stop-color="#00efff" stop-opacity="0.50"/><stop offset="0.988" stop-color="#00c3ff" stop-opacity="0.43"/></linearGradient><linearGradient id="fd62"><stop offset="0.012" stop-color="#001aff" stop-opacity="0.15"/><stop offset="0.085" stop-color="#001aff" stop-opacity="0.15"/><stop offset="0.110" stop-color="#0000da" stop-opacity="0.05"/><stop offset="0.134" stop-color="#0000bd" stop-opacity="0.00"/><stop offset="0.329" stop-color="#0000bf" stop-opacity="0.00"/><stop offset="0.354" stop-color="#0000d5" stop-opacity="0.04"/><stop offset="0.622" stop-color="#0000dd" stop-opacity="0.05"/><stop offset="0.646" stop-color="#0082ff" stop-opacity="0.32"/><stop offset="0.671" stop-color="#00f7ff" stop-opacity="0.51"/><stop offset="0.720" stop-color="#c4ff3b" stop-opacity="0.84"/><stop offset="0.744" stop-color="#ffb300"/><stop offset="0.768" stop-color="#ff1000"/><stop offset="0.793" stop-color="#c90000"/><stop offset="0.817" stop-color="#a80000"/><stop offset="0.890" stop-color="#a80000"/><stop offset="0.915" stop-color="#c90000"/><stop offset="0.939" stop-color="#ff0a00"/><stop offset="0.963" stop-color="#ffa400"/><stop offset="0.988" stop-color="#faff05" stop-opacity="0.93"/></linearGradient><linearGradient id="fd63"><stop offset="0.012" stop-color="#0000e7" stop-opacity="0.07"/><stop offset="0.085" stop-color="#0000e7" stop-opacity="0.07"/><stop offset="0.110" stop-color="#0000ca" stop-opacity="0.02"/><stop offset="0.134" stop-color="#0000bd" stop-opacity="0.00"/><stop offset="0.329" stop-color="#0000be" stop-opacity="0.00"/><stop offset="0.354" stop-color="#0000c8" stop-opacity="0.02"/><stop offset="0.622" stop-color="#0000cc" stop-opacity="0.02"/><stop offset="0.646" stop-color="#0017ff" stop-opacity="0.15"/><stop offset="0.720" stop-color="#00aaff" stop-opacity="0.39"/><stop offset="0.744" stop-color="#00e8ff" stop-opacity="0.49"/><stop offset="0.768" stop-color="#34ffcb" stop-opacity="0.61"/><stop offset="0.793" stop-color="#54ffab" stop-opacity="0.66"/><stop offset="0.817" stop-color="#63ff9c" stop-opacity="0.69"/><stop offset="0.890" stop-color="#63ff9c" stop-opacity="0.69"/><stop offset="0.915" stop-color="#54ffab" stop-opacity="0.66"/><stop offset="0.939" stop-color="#37ffc8" stop-opacity="0.61"/><stop offset="0.963" stop-color="#00efff" stop-opacity="0.50"/><stop offset="0.988" stop-color="#00c3ff" stop-opacity="0.43"/></linearGradient><linearGradient id="fd64"><stop offset="0.012" stop-color="#004dff" stop-opacity="0.23"/><stop offset="0.037" stop-color="#0024ff" stop-opacity="0.17"/><stop offset="0.061" stop-color="#001eff" stop-opacity="0.16"/><stop offset="0.134" stop-color="#0040ff" stop-opacity="0.21"/><stop offset="0.207" stop-color="#0047ff" stop-opacity="0.22"/><stop offset="0.256" stop-color="#0036ff" stop-opacity="0.20"/><stop offset="0.305" stop-color="#001eff" stop-opacity="0.16"/><stop offset="0.329" stop-color="#0009ff" stop-opacity="0.12"/><stop offset="0.378" stop-color="#0000d0" stop-opacity="0.03"/><stop offset="0.451" stop-color="#0000c5" stop-opacity="0.01"/><stop offset="0.768" stop-color="#0000bd" stop-opacity="0.00"/><stop offset="0.793" stop-color="#0000d2" stop-opacity="0.04"/><stop offset="0.988" stop-color="#0000d2" stop-opacity="0.04"/></linearGradient><linearGradient id="fd65"><stop offset="0.012" stop-color="#a5ff5a" stop-opacity="0.79"/><stop offset="0.037" stop-color="#19ffe6" stop-opacity="0.57"/><stop offset="0.061" stop-color="#05fffa" stop-opacity="0.53"/><stop offset="0.085" stop-color="#37ffc8" stop-opacity="0.62"/><stop offset="0.110" stop-color="#5dffa2" stop-opacity="0.68"/><stop offset="0.159" stop-color="#90ff6f" stop-opacity="0.76"/><stop offset="0.207" stop-color="#90ff6f" stop-opacity="0.76"/><stop offset="0.232" stop-color="#85ff7a" stop-opacity="0.74"/><stop offset="0.305" stop-color="#05fffa" stop-opacity="0.53"/><stop offset="0.329" stop-color="#00bcff" stop-opacity="0.42"/><stop offset="0.378" stop-color="#0000fd" stop-opacity="0.10"/><stop offset="0.402" stop-color="#0000e1" stop-opacity="0.06"/><stop offset="0.622" stop-color="#0000ce" stop-opacity="0.03"/><stop offset="0.646" stop-color="#0000c0" stop-opacity="0.01"/><stop offset="0.768" stop-color="#0000bd" stop-opacity="0.00"/><stop offset="0.793" stop-color="#0007ff" stop-opacity="0.12"/><stop offset="0.988" stop-color="#0007ff" stop-opacity="0.12"/></linearGradient><linearGradient id="fd66"><stop offset="0.012" stop-color="#004dff" stop-opacity="0.23"/><stop offset="0.037" stop-color="#0024ff" stop-opacity="0.17"/><stop offset="0.061" stop-color="#001eff" stop-opacity="0.16"/><stop offset="0.134" stop-color="#0040ff" stop-opacity="0.21"/><stop offset="0.207" stop-color="#0047ff" stop-opacity="0.22"/><stop offset="0.256" stop-color="#0036ff" stop-opacity="0.20"/><stop offset="0.305" stop-color="#001eff" stop-opacity="0.16"/><stop offset="0.329" stop-color="#0009ff" stop-opacity="0.12"/><stop offset="0.378" stop-color="#0000d0" stop-opacity="0.03"/><stop offset="0.451" stop-color="#0000c5" stop-opacity="0.01"/><stop offset="0.768" stop-color="#0000bd" stop-opacity="0.00"/><stop offset="0.793" stop-color="#0000d2" stop-opacity="0.04"/><stop offset="0.988" stop-color="#0000d2" stop-opacity="0.04"/></linearGradient><pattern id="std" x="0" y="0" width="2.4568" height="171" patternUnits="userSpaceOnUse"><rect x="0" y="0" width="1.351" height="171" fill="#000" opacity="0.22"/></pattern></defs><rect x="0" y="0" width="199" height="171" fill="url(#bgd)"/><rect x="44.22" y="33" width="39.31" height="1" fill="url(#fd0)"/><rect x="44.22" y="34" width="39.31" height="1" fill="url(#fd1)"/><rect x="44.22" y="35" width="39.31" height="1" fill="url(#fd2)"/><rect x="44.22" y="36" width="39.31" height="1" fill="url(#fd3)"/><rect x="44.22" y="37" width="39.31" height="1" fill="url(#fd4)"/><rect x="90.90" y="37" width="29.48" height="1" fill="url(#fd5)"/><rect x="90.90" y="38" width="29.48" height="1" fill="url(#fd6)"/><rect x="90.90" y="39" width="29.48" height="1" fill="url(#fd7)"/><rect x="90.90" y="40" width="29.48" height="1" fill="url(#fd8)"/><rect x="0.00" y="122" width="199.00" height="1" fill="url(#fd9)"/><rect x="0.00" y="123" width="199.00" height="1" fill="url(#fd10)"/><rect x="0.00" y="124" width="199.00" height="1" fill="url(#fd11)"/><rect x="0.00" y="125" width="199.00" height="1" fill="url(#fd12)"/><rect x="0.00" y="126" width="199.00" height="1" fill="url(#fd13)"/><rect x="0.00" y="65" width="27.02" height="1" fill="url(#fd14)"/><rect x="0.00" y="66" width="27.02" height="1" fill="url(#fd15)"/><rect x="0.00" y="67" width="27.02" height="1" fill="url(#fd16)"/><rect x="0.00" y="68" width="27.02" height="1" fill="url(#fd17)"/><rect x="58.96" y="10" width="140.04" height="1" fill="url(#fd18)"/><rect x="58.96" y="11" width="140.04" height="1" fill="url(#fd19)"/><rect x="58.96" y="12" width="140.04" height="1" fill="url(#fd20)"/><rect x="0.00" y="3" width="199.00" height="1" fill="url(#fd21)"/><rect x="0.00" y="4" width="199.00" height="1" fill="url(#fd22)"/><rect x="0.00" y="5" width="199.00" height="1" fill="url(#fd23)"/><rect x="49.14" y="53" width="81.07" height="1" fill="url(#fd24)"/><rect x="49.14" y="54" width="81.07" height="1" fill="url(#fd25)"/><rect x="49.14" y="55" width="81.07" height="1" fill="url(#fd26)"/><rect x="49.14" y="56" width="81.07" height="1" fill="url(#fd27)"/><rect x="49.14" y="57" width="81.07" height="1" fill="url(#fd28)"/><rect x="49.14" y="58" width="81.07" height="1" fill="url(#fd29)"/><rect x="49.14" y="59" width="81.07" height="1" fill="url(#fd30)"/><rect x="49.14" y="60" width="81.07" height="1" fill="url(#fd31)"/><rect x="49.14" y="61" width="81.07" height="1" fill="url(#fd32)"/><rect x="49.14" y="62" width="81.07" height="1" fill="url(#fd33)"/><rect x="39.31" y="66" width="90.90" height="1" fill="url(#fd34)"/><rect x="39.31" y="67" width="90.90" height="1" fill="url(#fd35)"/><rect x="39.31" y="68" width="90.90" height="1" fill="url(#fd36)"/><rect x="39.31" y="69" width="90.90" height="1" fill="url(#fd37)"/><rect x="39.31" y="70" width="90.90" height="1" fill="url(#fd38)"/><rect x="39.31" y="71" width="90.90" height="1" fill="url(#fd39)"/><rect x="39.31" y="72" width="90.90" height="1" fill="url(#fd40)"/><rect x="39.31" y="73" width="90.90" height="1" fill="url(#fd41)"/><rect x="0.00" y="24" width="199.00" height="1" fill="url(#fd42)"/><rect x="0.00" y="25" width="199.00" height="1" fill="url(#fd43)"/><rect x="0.00" y="26" width="199.00" height="1" fill="url(#fd44)"/><rect x="0.00" y="27" width="199.00" height="1" fill="url(#fd45)"/><rect x="0.00" y="46" width="199.00" height="1" fill="url(#fd46)"/><rect x="0.00" y="47" width="199.00" height="1" fill="url(#fd47)"/><rect x="0.00" y="48" width="199.00" height="1" fill="url(#fd48)"/><rect x="0.00" y="49" width="199.00" height="1" fill="url(#fd49)"/><rect x="0.00" y="102" width="199.00" height="1" fill="url(#fd50)"/><rect x="0.00" y="103" width="199.00" height="1" fill="url(#fd51)"/><rect x="0.00" y="104" width="199.00" height="1" fill="url(#fd52)"/><rect x="0.00" y="105" width="199.00" height="1" fill="url(#fd53)"/><rect x="0.00" y="138" width="199.00" height="1" fill="url(#fd54)"/><rect x="0.00" y="139" width="199.00" height="1" fill="url(#fd55)"/><rect x="0.00" y="140" width="199.00" height="1" fill="url(#fd56)"/><rect x="0.00" y="141" width="199.00" height="1" fill="url(#fd57)"/><rect x="0.00" y="168" width="199.00" height="1" fill="url(#fd58)"/><rect x="0.00" y="169" width="199.00" height="1" fill="url(#fd59)"/><rect x="0.00" y="170" width="199.00" height="1" fill="url(#fd60)"/><rect x="24.5" y="81" width="152.00" height="12.50" fill="#000028" opacity="0.65" shape-rendering="auto"/><rect x="0" y="0" width="199" height="171" fill="url(#std)" shape-rendering="auto"/><rect x="0.00" y="86" width="100.73" height="1" fill="url(#fd61)"/><rect x="0.00" y="87" width="100.73" height="1" fill="url(#fd62)"/><rect x="0.00" y="88" width="100.73" height="1" fill="url(#fd63)"/><rect x="98.27" y="86" width="100.73" height="1" fill="url(#fd64)"/><rect x="98.27" y="87" width="100.73" height="1" fill="url(#fd65)"/><rect x="98.27" y="88" width="100.73" height="1" fill="url(#fd66)"/><rect x="0" y="0" width="199" height="171" fill="url(#std)" opacity="0.35" shape-rendering="auto"/></svg><div class="ax axr"></div></div>
<div class="cb" style="left:519.5px;top:288px;width:11px;height:171px"></div>
<div class="t title" style="left:207.95px;width:400px;text-align:center;top:274.8px">Range-Angle MAP(12) : Noise +</div>
<div class="t tk" style="right:242.89999999999998px;top:282.60px">10</div>
<div class="t tk" style="right:242.89999999999998px;top:316.80px">8</div>
<div class="t tk" style="right:242.89999999999998px;top:351.00px">6</div>
<div class="t tk" style="right:242.89999999999998px;top:385.20px">4</div>
<div class="t tk" style="right:242.89999999999998px;top:419.40px">2</div>
<div class="t tk" style="right:242.89999999999998px;top:453.60px">0</div>
<div class="t tk" style="left:259.50px;width:100px;text-align:center;top:463.80px">−40</div>
<div class="t tk" style="left:309.25px;width:100px;text-align:center;top:463.80px">−20</div>
<div class="t tk" style="left:359.50px;width:100px;text-align:center;top:463.80px">0</div>
<div class="t tk" style="left:409.25px;width:100px;text-align:center;top:463.80px">20</div>
<div class="t tk" style="left:459.00px;width:100px;text-align:center;top:463.80px">40</div>
<div class="t tk" style="left:533.9px;top:293.00px;letter-spacing:-0.45px">0.7</div>
<div style="position:absolute;left:528.9px;top:297.60px;width:1.6px;height:1px;background:rgba(30,30,30,.4)"></div>
<div class="t tk" style="left:533.9px;top:319.45px;letter-spacing:-0.45px">0.6</div>
<div style="position:absolute;left:528.9px;top:324.05px;width:1.6px;height:1px;background:rgba(30,30,30,.4)"></div>
<div class="t tk" style="left:533.9px;top:345.90px;letter-spacing:-0.45px">0.5</div>
<div style="position:absolute;left:528.9px;top:350.50px;width:1.6px;height:1px;background:rgba(30,30,30,.4)"></div>
<div class="t tk" style="left:533.9px;top:372.35px;letter-spacing:-0.45px">0.4</div>
<div style="position:absolute;left:528.9px;top:376.95px;width:1.6px;height:1px;background:rgba(30,30,30,.4)"></div>
<div class="t tk" style="left:533.9px;top:398.80px;letter-spacing:-0.45px">0.3</div>
<div style="position:absolute;left:528.9px;top:403.40px;width:1.6px;height:1px;background:rgba(30,30,30,.4)"></div>
<div class="t tk" style="left:533.9px;top:425.25px;letter-spacing:-0.45px">0.2</div>
<div style="position:absolute;left:528.9px;top:429.85px;width:1.6px;height:1px;background:rgba(30,30,30,.4)"></div>
<div class="t tk" style="left:533.9px;top:451.70px;letter-spacing:-0.45px">0.1</div>
<div style="position:absolute;left:528.9px;top:456.30px;width:1.6px;height:1px;background:rgba(30,30,30,.4)"></div>
<div class="t lab" style="left:310px;width:200px;text-align:center;top:476.80px">Angle [deg.]</div>
<div class="t lab" style="left:187px;width:200px;text-align:center;top:367.00px;transform:rotate(-90deg)">Range [m]</div>
<div class="cap" style="left:371.8px;width:60px;text-align:center;top:515.4px"><i>(</i><b>d</b><i>)</i></div>
</body></html>
